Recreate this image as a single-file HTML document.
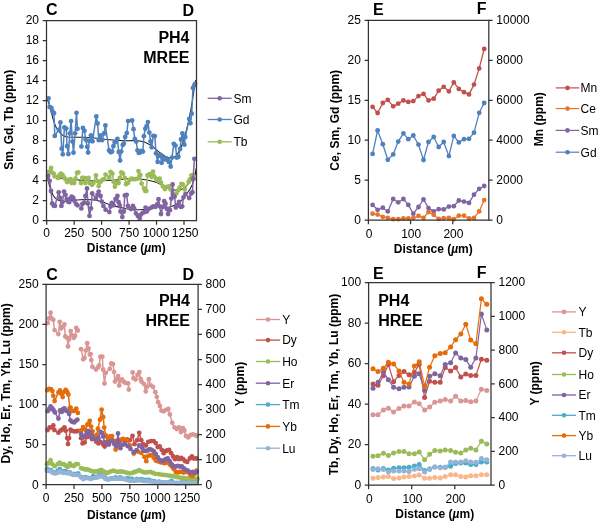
<!DOCTYPE html>
<html><head><meta charset="utf-8"><title>Figure</title>
<style>html,body{margin:0;padding:0;background:#fff;}svg{display:block;filter:blur(0.3px);}</style>
</head><body>
<svg width="600" height="523" viewBox="0 0 600 523" font-family='"Liberation Sans", sans-serif' fill="#000"><rect width="600" height="523" fill="#fff"/><path d="M47.5 100 L49.5 105 L51.3 111.7 L52.7 117.9 L54.6 123.7 L56.5 128 L58.9 131.3 L61.3 134.2 L64.1 136.1 L68 137 L74.7 137.2 L85 137.2 L95 138 L105 139.3 L115 140.3 L125 140.8 L135 140.6 L140 141 L145 142.3 L150 144.8 L155 148.6 L160 152.8 L165 156.3 L170 158.3 L173 158.2 L176 156 L180 150 L183 142 L186 132 L188.5 122 L190.5 112 L192.5 100 L194.3 88 L195.8 80" fill="none" stroke="#222" stroke-width="1.1" stroke-linejoin="round"/><path d="M47.5 170.5 L50 172 L53 174.5 L57.4 177.2 L63 178.6 L69.8 179.3 L76 179.8 L82.3 180.4 L90 180.8 L95 180.7 L100 180.6 L105 180.4 L113.6 180.3 L120 179.6 L125 179 L131 178.6 L137 178.8 L142 179.2 L147 180 L152.7 181.3 L158 183 L164.2 186.2 L170 188.8 L175.8 190.3 L180 190 L183.5 188.5 L186 186.2 L188.6 183.6 L191 181 L193.1 178.8 L195 174.5 L196 171" fill="none" stroke="#222" stroke-width="1.1" stroke-linejoin="round"/><path d="M47.5 177 L48.5 182 L50 187.5 L51.5 191.8 L53.3 195.5 L55 197.8 L57 199.6 L60.4 201 L65 201.2 L68.7 200.9 L75 200.3 L80.6 199.8 L86 199.6 L92.4 199.8 L97 200.5 L101.9 201.6 L106 203.2 L113.6 205.9 L120 207.4 L126 208.7 L132.3 209.6 L140 209.8 L145 209.3 L150 208 L157.8 206.3 L162 206.8 L166.8 207.3 L170 207 L174.5 205.3 L178 203.3 L182.2 199.6 L185 196 L187.3 193 L190 189 L192.4 184.5 L194 179 L195.5 172 L196.3 168" fill="none" stroke="#222" stroke-width="1.1" stroke-linejoin="round"/><path d="M48.6 98.3 L49.7 107.1 L51.4 107.8 L52.4 111.2 L54 113.2 L54.8 135.9 L58.8 129.9 L60.4 122.5 L61.7 148.7 L62.8 154.3 L64.4 127.5 L66.2 128.6 L67.1 146.2 L68.4 154 L69.8 133.3 L71.1 121.1 L72.5 141.6 L73.5 152.7 L75.1 133.3 L76.5 112.8 L77.5 128.8M81.4 146.6 L82.9 127.9 L84.5 130.8 L85.6 139.6 L87.2 146.9 L88.1 152.5 L89.2 140.9 L90.9 135.5 L92.5 141.3 L96.3 116.4 L97.6 123.5 L98.8 140.2 L100.2 135.5 L102 140.2 L104 133.5 L105.4 125.5 L109.1 150.5 L110.7 152.3 L112.1 151.6 L113.4 146.2 L114.7 142.6 L116.1 141.6 L117.4 138.9 L118.7 151.9 L120.1 160.5 L121.2 151.6 L122.8 144.9 L123.8 143.6 L125.2 136.9 L126.8 133.1 L128.1 121.1 L132.1 120.5 L133.5 129.2 L134.8 138.9 L136.2 141.6 L137.5 150.3 L138.8 152.9 L140.2 152.3 L141.5 150.9 L142.9 151.6 L143.9 136.2 L145.3 128.8 L146.6 126.2 L147.9 122.1 L149.3 132.6 L150.6 141.3 L151.7 147.3 L153.3 135.8 L154.8 136.1 L156 153.3 L157.7 161.9 L158.6 155.9 L160.3 155 L161.7 162.8 L162.9 157.6 L164.6 159.3 L166.4 158.5 L167.7 160.2 L168.9 161.9 L170.7 166.5 L172 157.6 L173.8 143.8 L175.5 145.6 L176.7 157.6 L178.4 156.8 L180.1 149 L181 139.5 L182.4 133.5 L183.6 137 L184.4 144.7 L185.3 137 L189.2 118.9 L190.4 123.2 L191.7 113.7 L193 87.9 L194.4 85.3 L195.1 84" fill="none" stroke="#4F81BD" stroke-width="1.5" stroke-linejoin="round"/><g fill="#4F81BD"><circle cx="48.6" cy="98.3" r="2.4"/><circle cx="49.7" cy="107.1" r="2.4"/><circle cx="51.4" cy="107.8" r="2.4"/><circle cx="52.4" cy="111.2" r="2.4"/><circle cx="54" cy="113.2" r="2.4"/><circle cx="54.8" cy="135.9" r="2.4"/><circle cx="58.8" cy="129.9" r="2.4"/><circle cx="60.4" cy="122.5" r="2.4"/><circle cx="61.7" cy="148.7" r="2.4"/><circle cx="62.8" cy="154.3" r="2.4"/><circle cx="64.4" cy="127.5" r="2.4"/><circle cx="66.2" cy="128.6" r="2.4"/><circle cx="67.1" cy="146.2" r="2.4"/><circle cx="68.4" cy="154" r="2.4"/><circle cx="69.8" cy="133.3" r="2.4"/><circle cx="71.1" cy="121.1" r="2.4"/><circle cx="72.5" cy="141.6" r="2.4"/><circle cx="73.5" cy="152.7" r="2.4"/><circle cx="75.1" cy="133.3" r="2.4"/><circle cx="76.5" cy="112.8" r="2.4"/><circle cx="77.5" cy="128.8" r="2.4"/><circle cx="81.4" cy="146.6" r="2.4"/><circle cx="82.9" cy="127.9" r="2.4"/><circle cx="84.5" cy="130.8" r="2.4"/><circle cx="85.6" cy="139.6" r="2.4"/><circle cx="87.2" cy="146.9" r="2.4"/><circle cx="88.1" cy="152.5" r="2.4"/><circle cx="89.2" cy="140.9" r="2.4"/><circle cx="90.9" cy="135.5" r="2.4"/><circle cx="92.5" cy="141.3" r="2.4"/><circle cx="96.3" cy="116.4" r="2.4"/><circle cx="97.6" cy="123.5" r="2.4"/><circle cx="98.8" cy="140.2" r="2.4"/><circle cx="100.2" cy="135.5" r="2.4"/><circle cx="102" cy="140.2" r="2.4"/><circle cx="104" cy="133.5" r="2.4"/><circle cx="105.4" cy="125.5" r="2.4"/><circle cx="109.1" cy="150.5" r="2.4"/><circle cx="110.7" cy="152.3" r="2.4"/><circle cx="112.1" cy="151.6" r="2.4"/><circle cx="113.4" cy="146.2" r="2.4"/><circle cx="114.7" cy="142.6" r="2.4"/><circle cx="116.1" cy="141.6" r="2.4"/><circle cx="117.4" cy="138.9" r="2.4"/><circle cx="118.7" cy="151.9" r="2.4"/><circle cx="120.1" cy="160.5" r="2.4"/><circle cx="121.2" cy="151.6" r="2.4"/><circle cx="122.8" cy="144.9" r="2.4"/><circle cx="123.8" cy="143.6" r="2.4"/><circle cx="125.2" cy="136.9" r="2.4"/><circle cx="126.8" cy="133.1" r="2.4"/><circle cx="128.1" cy="121.1" r="2.4"/><circle cx="132.1" cy="120.5" r="2.4"/><circle cx="133.5" cy="129.2" r="2.4"/><circle cx="134.8" cy="138.9" r="2.4"/><circle cx="136.2" cy="141.6" r="2.4"/><circle cx="137.5" cy="150.3" r="2.4"/><circle cx="138.8" cy="152.9" r="2.4"/><circle cx="140.2" cy="152.3" r="2.4"/><circle cx="141.5" cy="150.9" r="2.4"/><circle cx="142.9" cy="151.6" r="2.4"/><circle cx="143.9" cy="136.2" r="2.4"/><circle cx="145.3" cy="128.8" r="2.4"/><circle cx="146.6" cy="126.2" r="2.4"/><circle cx="147.9" cy="122.1" r="2.4"/><circle cx="149.3" cy="132.6" r="2.4"/><circle cx="150.6" cy="141.3" r="2.4"/><circle cx="151.7" cy="147.3" r="2.4"/><circle cx="153.3" cy="135.8" r="2.4"/><circle cx="154.8" cy="136.1" r="2.4"/><circle cx="156" cy="153.3" r="2.4"/><circle cx="157.7" cy="161.9" r="2.4"/><circle cx="158.6" cy="155.9" r="2.4"/><circle cx="160.3" cy="155" r="2.4"/><circle cx="161.7" cy="162.8" r="2.4"/><circle cx="162.9" cy="157.6" r="2.4"/><circle cx="164.6" cy="159.3" r="2.4"/><circle cx="166.4" cy="158.5" r="2.4"/><circle cx="167.7" cy="160.2" r="2.4"/><circle cx="168.9" cy="161.9" r="2.4"/><circle cx="170.7" cy="166.5" r="2.4"/><circle cx="172" cy="157.6" r="2.4"/><circle cx="173.8" cy="143.8" r="2.4"/><circle cx="175.5" cy="145.6" r="2.4"/><circle cx="176.7" cy="157.6" r="2.4"/><circle cx="178.4" cy="156.8" r="2.4"/><circle cx="180.1" cy="149" r="2.4"/><circle cx="181" cy="139.5" r="2.4"/><circle cx="182.4" cy="133.5" r="2.4"/><circle cx="183.6" cy="137" r="2.4"/><circle cx="184.4" cy="144.7" r="2.4"/><circle cx="185.3" cy="137" r="2.4"/><circle cx="189.2" cy="118.9" r="2.4"/><circle cx="190.4" cy="123.2" r="2.4"/><circle cx="191.7" cy="113.7" r="2.4"/><circle cx="193" cy="87.9" r="2.4"/><circle cx="194.4" cy="85.3" r="2.4"/><circle cx="195.1" cy="84" r="2.4"/></g><path d="M48.7 171.8 L51 168 L51.8 172.4 L53.7 173.6 L54.7 176.4 L58 178 L59.3 175.5 L60.9 173.6 L62.6 174.9 L63.9 177.4 L65.5 179.2 L67.1 182.1 L68.9 181.1 L70.5 179.2 L71.7 183 L73 181.1 L74.2 183 L75.4 178.6 L77 173 L78.3 172.4M81 183 L82.3 178 L84.1 178 L85.4 183 L87 178.6 L88.5 178 L89.7 183 L92 184.8 L93.4 183 L95.9 175.5 L97.5 181.1 L98.7 186.1 L100.6 181.7 L102.5 179.8 L104.3 179.2 L105.6 174.6 L109.3 177.4 L110.5 171.8 L112.4 173.6 L113.6 181.7 L114.9 186.7 L116.7 183 L118.6 183 L119.8 178 L121.3 172.4 L123 173.6 L124.8 178 L126.1 184.2 L127.9 183 L129.8 179.8 L131.6 178.6 L133.5 179.2 L135.4 179.2 L137.9 178.6 L138.5 171.1 L140.3 174.9 L141.6 183.6 L144.1 188.5 L145.3 191 L146.3 190.9 L147.6 175.5 L149.5 174.2 L151.4 176.8 L153 171.7 L154 176.2 L155.9 178.7 L157.8 180.6 L159.7 178.7 L161 182.6 L162.9 186.4 L164.9 189 L166.8 187.1 L168.7 186.4 L170.6 189.6 L172.6 193.5 L174.5 196 L176.4 193.5 L178.1 190.3 L179.6 187.7 L181.5 183.8 L182.8 184.5 L184.7 189.6 L188.6 181.9 L189.9 179.4 L191.4 175.5 L193.1 175.5 L194.4 178.7" fill="none" stroke="#9BBB59" stroke-width="1.5" stroke-linejoin="round"/><g fill="#9BBB59"><circle cx="48.7" cy="171.8" r="2.4"/><circle cx="51" cy="168" r="2.4"/><circle cx="51.8" cy="172.4" r="2.4"/><circle cx="53.7" cy="173.6" r="2.4"/><circle cx="54.7" cy="176.4" r="2.4"/><circle cx="58" cy="178" r="2.4"/><circle cx="59.3" cy="175.5" r="2.4"/><circle cx="60.9" cy="173.6" r="2.4"/><circle cx="62.6" cy="174.9" r="2.4"/><circle cx="63.9" cy="177.4" r="2.4"/><circle cx="65.5" cy="179.2" r="2.4"/><circle cx="67.1" cy="182.1" r="2.4"/><circle cx="68.9" cy="181.1" r="2.4"/><circle cx="70.5" cy="179.2" r="2.4"/><circle cx="71.7" cy="183" r="2.4"/><circle cx="73" cy="181.1" r="2.4"/><circle cx="74.2" cy="183" r="2.4"/><circle cx="75.4" cy="178.6" r="2.4"/><circle cx="77" cy="173" r="2.4"/><circle cx="78.3" cy="172.4" r="2.4"/><circle cx="81" cy="183" r="2.4"/><circle cx="82.3" cy="178" r="2.4"/><circle cx="84.1" cy="178" r="2.4"/><circle cx="85.4" cy="183" r="2.4"/><circle cx="87" cy="178.6" r="2.4"/><circle cx="88.5" cy="178" r="2.4"/><circle cx="89.7" cy="183" r="2.4"/><circle cx="92" cy="184.8" r="2.4"/><circle cx="93.4" cy="183" r="2.4"/><circle cx="95.9" cy="175.5" r="2.4"/><circle cx="97.5" cy="181.1" r="2.4"/><circle cx="98.7" cy="186.1" r="2.4"/><circle cx="100.6" cy="181.7" r="2.4"/><circle cx="102.5" cy="179.8" r="2.4"/><circle cx="104.3" cy="179.2" r="2.4"/><circle cx="105.6" cy="174.6" r="2.4"/><circle cx="109.3" cy="177.4" r="2.4"/><circle cx="110.5" cy="171.8" r="2.4"/><circle cx="112.4" cy="173.6" r="2.4"/><circle cx="113.6" cy="181.7" r="2.4"/><circle cx="114.9" cy="186.7" r="2.4"/><circle cx="116.7" cy="183" r="2.4"/><circle cx="118.6" cy="183" r="2.4"/><circle cx="119.8" cy="178" r="2.4"/><circle cx="121.3" cy="172.4" r="2.4"/><circle cx="123" cy="173.6" r="2.4"/><circle cx="124.8" cy="178" r="2.4"/><circle cx="126.1" cy="184.2" r="2.4"/><circle cx="127.9" cy="183" r="2.4"/><circle cx="129.8" cy="179.8" r="2.4"/><circle cx="131.6" cy="178.6" r="2.4"/><circle cx="133.5" cy="179.2" r="2.4"/><circle cx="135.4" cy="179.2" r="2.4"/><circle cx="137.9" cy="178.6" r="2.4"/><circle cx="138.5" cy="171.1" r="2.4"/><circle cx="140.3" cy="174.9" r="2.4"/><circle cx="141.6" cy="183.6" r="2.4"/><circle cx="144.1" cy="188.5" r="2.4"/><circle cx="145.3" cy="191" r="2.4"/><circle cx="146.3" cy="190.9" r="2.4"/><circle cx="147.6" cy="175.5" r="2.4"/><circle cx="149.5" cy="174.2" r="2.4"/><circle cx="151.4" cy="176.8" r="2.4"/><circle cx="153" cy="171.7" r="2.4"/><circle cx="154" cy="176.2" r="2.4"/><circle cx="155.9" cy="178.7" r="2.4"/><circle cx="157.8" cy="180.6" r="2.4"/><circle cx="159.7" cy="178.7" r="2.4"/><circle cx="161" cy="182.6" r="2.4"/><circle cx="162.9" cy="186.4" r="2.4"/><circle cx="164.9" cy="189" r="2.4"/><circle cx="166.8" cy="187.1" r="2.4"/><circle cx="168.7" cy="186.4" r="2.4"/><circle cx="170.6" cy="189.6" r="2.4"/><circle cx="172.6" cy="193.5" r="2.4"/><circle cx="174.5" cy="196" r="2.4"/><circle cx="176.4" cy="193.5" r="2.4"/><circle cx="178.1" cy="190.3" r="2.4"/><circle cx="179.6" cy="187.7" r="2.4"/><circle cx="181.5" cy="183.8" r="2.4"/><circle cx="182.8" cy="184.5" r="2.4"/><circle cx="184.7" cy="189.6" r="2.4"/><circle cx="188.6" cy="181.9" r="2.4"/><circle cx="189.9" cy="179.4" r="2.4"/><circle cx="191.4" cy="175.5" r="2.4"/><circle cx="193.1" cy="175.5" r="2.4"/><circle cx="194.4" cy="178.7" r="2.4"/></g><path d="M48.1 175.9 L49.7 180.8 L51 191 L52.2 203.4 L53.7 205.7 L54.9 205.9 L58.7 192.3 L60.2 197.9 L61.4 205.9 L62.4 202.2 L64 191.6 L65.5 194.8 L66.7 199.1 L68 201.6 L69.2 202.2 L70.5 198.5 L71.7 196.6 L73.3 197.9 L74.6 201 L76.1 204.1 L77.5 205.3M81.3 208.4 L82.3 204.1 L84.1 202.8 L85.4 196 L87 188.5 L87.9 203.4 L89.5 215.9 L91 208.4 L92.2 193.5 L95.9 198.5 L97.5 194.8 L98.7 191.6 L100.6 196 L101.8 201.6 L103.4 205.9 L105.6 209.7 L109.3 212.1 L110.5 206.6 L111.8 202.8 L113.6 205.3 L115.5 199.1 L117.4 196 L118.6 202.2 L119.8 205.3 L120.5 211.5 L122.3 217.1 L123.8 211.5 L124.8 195.4 L126.7 194.8 L127.9 205.9 L131 209 L132.9 205.9 L134.1 208.4 L136 213.4 L137.9 215.9 L139.7 218.4 L141 214.6 L142.8 212.8 L144.7 212.1 L145.6 207.6 L146.9 211.4 L148.8 208.8 L151.4 207.6 L153.3 206.3 L155.3 206.9 L157.2 204.4 L158.5 199.2 L159.7 206.3 L161 214 L162.9 206.9 L164.2 201.2 L165.5 203.7 L166.8 208.8 L168.1 214 L170 210.1 L171.3 198.6 L172.6 184.5 L173.5 196 L174.5 196.7 L175.8 207.6 L177.7 205.6 L179 201.8 L180.9 206.9 L182.2 206.3 L183.5 197.3 L185.4 194.1 L189.2 198 L191.2 193.5 L192.4 192.2 L193.1 178.7 L194.4 158.8" fill="none" stroke="#8064A2" stroke-width="1.5" stroke-linejoin="round"/><g fill="#8064A2"><circle cx="48.1" cy="175.9" r="2.4"/><circle cx="49.7" cy="180.8" r="2.4"/><circle cx="51" cy="191" r="2.4"/><circle cx="52.2" cy="203.4" r="2.4"/><circle cx="53.7" cy="205.7" r="2.4"/><circle cx="54.9" cy="205.9" r="2.4"/><circle cx="58.7" cy="192.3" r="2.4"/><circle cx="60.2" cy="197.9" r="2.4"/><circle cx="61.4" cy="205.9" r="2.4"/><circle cx="62.4" cy="202.2" r="2.4"/><circle cx="64" cy="191.6" r="2.4"/><circle cx="65.5" cy="194.8" r="2.4"/><circle cx="66.7" cy="199.1" r="2.4"/><circle cx="68" cy="201.6" r="2.4"/><circle cx="69.2" cy="202.2" r="2.4"/><circle cx="70.5" cy="198.5" r="2.4"/><circle cx="71.7" cy="196.6" r="2.4"/><circle cx="73.3" cy="197.9" r="2.4"/><circle cx="74.6" cy="201" r="2.4"/><circle cx="76.1" cy="204.1" r="2.4"/><circle cx="77.5" cy="205.3" r="2.4"/><circle cx="81.3" cy="208.4" r="2.4"/><circle cx="82.3" cy="204.1" r="2.4"/><circle cx="84.1" cy="202.8" r="2.4"/><circle cx="85.4" cy="196" r="2.4"/><circle cx="87" cy="188.5" r="2.4"/><circle cx="87.9" cy="203.4" r="2.4"/><circle cx="89.5" cy="215.9" r="2.4"/><circle cx="91" cy="208.4" r="2.4"/><circle cx="92.2" cy="193.5" r="2.4"/><circle cx="95.9" cy="198.5" r="2.4"/><circle cx="97.5" cy="194.8" r="2.4"/><circle cx="98.7" cy="191.6" r="2.4"/><circle cx="100.6" cy="196" r="2.4"/><circle cx="101.8" cy="201.6" r="2.4"/><circle cx="103.4" cy="205.9" r="2.4"/><circle cx="105.6" cy="209.7" r="2.4"/><circle cx="109.3" cy="212.1" r="2.4"/><circle cx="110.5" cy="206.6" r="2.4"/><circle cx="111.8" cy="202.8" r="2.4"/><circle cx="113.6" cy="205.3" r="2.4"/><circle cx="115.5" cy="199.1" r="2.4"/><circle cx="117.4" cy="196" r="2.4"/><circle cx="118.6" cy="202.2" r="2.4"/><circle cx="119.8" cy="205.3" r="2.4"/><circle cx="120.5" cy="211.5" r="2.4"/><circle cx="122.3" cy="217.1" r="2.4"/><circle cx="123.8" cy="211.5" r="2.4"/><circle cx="124.8" cy="195.4" r="2.4"/><circle cx="126.7" cy="194.8" r="2.4"/><circle cx="127.9" cy="205.9" r="2.4"/><circle cx="131" cy="209" r="2.4"/><circle cx="132.9" cy="205.9" r="2.4"/><circle cx="134.1" cy="208.4" r="2.4"/><circle cx="136" cy="213.4" r="2.4"/><circle cx="137.9" cy="215.9" r="2.4"/><circle cx="139.7" cy="218.4" r="2.4"/><circle cx="141" cy="214.6" r="2.4"/><circle cx="142.8" cy="212.8" r="2.4"/><circle cx="144.7" cy="212.1" r="2.4"/><circle cx="145.6" cy="207.6" r="2.4"/><circle cx="146.9" cy="211.4" r="2.4"/><circle cx="148.8" cy="208.8" r="2.4"/><circle cx="151.4" cy="207.6" r="2.4"/><circle cx="153.3" cy="206.3" r="2.4"/><circle cx="155.3" cy="206.9" r="2.4"/><circle cx="157.2" cy="204.4" r="2.4"/><circle cx="158.5" cy="199.2" r="2.4"/><circle cx="159.7" cy="206.3" r="2.4"/><circle cx="161" cy="214" r="2.4"/><circle cx="162.9" cy="206.9" r="2.4"/><circle cx="164.2" cy="201.2" r="2.4"/><circle cx="165.5" cy="203.7" r="2.4"/><circle cx="166.8" cy="208.8" r="2.4"/><circle cx="168.1" cy="214" r="2.4"/><circle cx="170" cy="210.1" r="2.4"/><circle cx="171.3" cy="198.6" r="2.4"/><circle cx="172.6" cy="184.5" r="2.4"/><circle cx="173.5" cy="196" r="2.4"/><circle cx="174.5" cy="196.7" r="2.4"/><circle cx="175.8" cy="207.6" r="2.4"/><circle cx="177.7" cy="205.6" r="2.4"/><circle cx="179" cy="201.8" r="2.4"/><circle cx="180.9" cy="206.9" r="2.4"/><circle cx="182.2" cy="206.3" r="2.4"/><circle cx="183.5" cy="197.3" r="2.4"/><circle cx="185.4" cy="194.1" r="2.4"/><circle cx="189.2" cy="198" r="2.4"/><circle cx="191.2" cy="193.5" r="2.4"/><circle cx="192.4" cy="192.2" r="2.4"/><circle cx="193.1" cy="178.7" r="2.4"/><circle cx="194.4" cy="158.8" r="2.4"/></g><path d="M46.5 20.5 H196.5 V220.5 H46.5 Z" fill="none" stroke="#333333" stroke-width="1.25"/><path d="M42.7 220.5 H46.5 M42.7 200.5 H46.5 M42.7 180.5 H46.5 M42.7 160.5 H46.5 M42.7 140.5 H46.5 M42.7 120.5 H46.5 M42.7 100.5 H46.5 M42.7 80.5 H46.5 M42.7 60.5 H46.5 M42.7 40.5 H46.5 M42.7 20.5 H46.5 " stroke="#333333" stroke-width="1.25"/><text x="39" y="224.3" font-size="12" text-anchor="end">0</text><text x="39" y="204.3" font-size="12" text-anchor="end">2</text><text x="39" y="184.3" font-size="12" text-anchor="end">4</text><text x="39" y="164.3" font-size="12" text-anchor="end">6</text><text x="39" y="144.3" font-size="12" text-anchor="end">8</text><text x="39" y="124.3" font-size="12" text-anchor="end">10</text><text x="39" y="104.3" font-size="12" text-anchor="end">12</text><text x="39" y="84.3" font-size="12" text-anchor="end">14</text><text x="39" y="64.3" font-size="12" text-anchor="end">16</text><text x="39" y="44.3" font-size="12" text-anchor="end">18</text><text x="39" y="24.3" font-size="12" text-anchor="end">20</text><path d="M46.7 220.5 V224.7 M74.16 220.5 V224.7 M101.62 220.5 V224.7 M129.08 220.5 V224.7 M156.54 220.5 V224.7 M184 220.5 V224.7 " stroke="#333333" stroke-width="1.25"/><text x="46.7" y="236.8" font-size="12" text-anchor="middle">0</text><text x="74.16" y="236.8" font-size="12" text-anchor="middle">250</text><text x="101.62" y="236.8" font-size="12" text-anchor="middle">500</text><text x="129.08" y="236.8" font-size="12" text-anchor="middle">750</text><text x="156.04" y="236.8" font-size="12" text-anchor="middle">1000</text><text x="185.2" y="236.8" font-size="12" text-anchor="middle">1250</text><text x="46" y="15.3" font-size="16" text-anchor="start" font-weight="bold">C</text><text x="194" y="15.5" font-size="16" text-anchor="end" font-weight="bold">D</text><text x="189.5" y="42.5" font-size="16" text-anchor="end" font-weight="bold">PH4</text><text x="189.5" y="62.7" font-size="16" text-anchor="end" font-weight="bold">MREE</text><text transform="translate(9.2 119.7) rotate(-90)" x="0" y="0" font-size="12" text-anchor="middle" dominant-baseline="central" font-weight="bold">Sm, Gd, Tb (ppm)</text><text x="126.3" y="252.3" font-size="12" text-anchor="middle" font-weight="bold">Distance (<tspan font-style="italic">µ</tspan>m)</text><path d="M207.7 98.3 H231.7" stroke="#8064A2" stroke-width="1.3"/><circle cx="219.7" cy="98.3" r="2.3" fill="#8064A2"/><text x="233.4" y="102.6" font-size="12" text-anchor="start">Sm</text><path d="M207.7 119.5 H231.7" stroke="#4F81BD" stroke-width="1.3"/><circle cx="219.7" cy="119.5" r="2.3" fill="#4F81BD"/><text x="233.4" y="123.8" font-size="12" text-anchor="start">Gd</text><path d="M207.7 141.8 H231.7" stroke="#9BBB59" stroke-width="1.3"/><circle cx="219.7" cy="141.8" r="2.3" fill="#9BBB59"/><text x="233.4" y="146.1" font-size="12" text-anchor="start">Tb</text><path d="M372.6 106.9 L377.6 113 L382.8 103 L387.8 99.8 L393.2 106.3 L398.2 103.7 L403.4 100.4 L408.3 101.9 L413.3 101.1 L418.5 96.1 L423.5 93.9 L428.5 100.4 L433.7 98.7 L438.7 90.7 L443.7 86.8 L448.9 91.3 L453.8 82.4 L458.8 88.9 L464 92.2 L469 94.4 L474 84.6 L479.2 68.4 L484.2 48.9" fill="none" stroke="#C0504D" stroke-width="1.3" stroke-linejoin="round"/><g fill="#C0504D"><circle cx="372.6" cy="106.9" r="2.4"/><circle cx="377.6" cy="113" r="2.4"/><circle cx="382.8" cy="103" r="2.4"/><circle cx="387.8" cy="99.8" r="2.4"/><circle cx="393.2" cy="106.3" r="2.4"/><circle cx="398.2" cy="103.7" r="2.4"/><circle cx="403.4" cy="100.4" r="2.4"/><circle cx="408.3" cy="101.9" r="2.4"/><circle cx="413.3" cy="101.1" r="2.4"/><circle cx="418.5" cy="96.1" r="2.4"/><circle cx="423.5" cy="93.9" r="2.4"/><circle cx="428.5" cy="100.4" r="2.4"/><circle cx="433.7" cy="98.7" r="2.4"/><circle cx="438.7" cy="90.7" r="2.4"/><circle cx="443.7" cy="86.8" r="2.4"/><circle cx="448.9" cy="91.3" r="2.4"/><circle cx="453.8" cy="82.4" r="2.4"/><circle cx="458.8" cy="88.9" r="2.4"/><circle cx="464" cy="92.2" r="2.4"/><circle cx="469" cy="94.4" r="2.4"/><circle cx="474" cy="84.6" r="2.4"/><circle cx="479.2" cy="68.4" r="2.4"/><circle cx="484.2" cy="48.9" r="2.4"/></g><path d="M372.6 153.9 L377.6 130.5 L382.8 144.2 L387.8 159.8 L393.2 154.4 L398.2 141.6 L403.4 133.3 L408.3 139.2 L413.3 135.5 L418.5 144.6 L423.5 160 L428.5 142 L433.7 137 L438.7 147 L443.7 142 L448.9 156.1 L453.8 135.9 L458.8 142.4 L464 139.2 L469 138.8 L474 132.7 L479.2 112.8 L484.2 103" fill="none" stroke="#4F81BD" stroke-width="1.3" stroke-linejoin="round"/><g fill="#4F81BD"><circle cx="372.6" cy="153.9" r="2.4"/><circle cx="377.6" cy="130.5" r="2.4"/><circle cx="382.8" cy="144.2" r="2.4"/><circle cx="387.8" cy="159.8" r="2.4"/><circle cx="393.2" cy="154.4" r="2.4"/><circle cx="398.2" cy="141.6" r="2.4"/><circle cx="403.4" cy="133.3" r="2.4"/><circle cx="408.3" cy="139.2" r="2.4"/><circle cx="413.3" cy="135.5" r="2.4"/><circle cx="418.5" cy="144.6" r="2.4"/><circle cx="423.5" cy="160" r="2.4"/><circle cx="428.5" cy="142" r="2.4"/><circle cx="433.7" cy="137" r="2.4"/><circle cx="438.7" cy="147" r="2.4"/><circle cx="443.7" cy="142" r="2.4"/><circle cx="448.9" cy="156.1" r="2.4"/><circle cx="453.8" cy="135.9" r="2.4"/><circle cx="458.8" cy="142.4" r="2.4"/><circle cx="464" cy="139.2" r="2.4"/><circle cx="469" cy="138.8" r="2.4"/><circle cx="474" cy="132.7" r="2.4"/><circle cx="479.2" cy="112.8" r="2.4"/><circle cx="484.2" cy="103" r="2.4"/></g><path d="M372.6 204.9 L377.6 209.8 L382.8 207.7 L387.8 211.4 L393.2 199 L398.2 202.3 L403.4 199 L408.3 204.9 L413.3 213.7 L418.5 207 L423.5 199.4 L428.5 208.1 L433.7 211.4 L438.7 209.2 L443.7 209.4 L448.9 206.6 L453.8 206.2 L458.8 200.5 L464 201.6 L469 202.9 L474 194.7 L479.2 188.8 L484.2 186" fill="none" stroke="#8064A2" stroke-width="1.3" stroke-linejoin="round"/><g fill="#8064A2"><circle cx="372.6" cy="204.9" r="2.4"/><circle cx="377.6" cy="209.8" r="2.4"/><circle cx="382.8" cy="207.7" r="2.4"/><circle cx="387.8" cy="211.4" r="2.4"/><circle cx="393.2" cy="199" r="2.4"/><circle cx="398.2" cy="202.3" r="2.4"/><circle cx="403.4" cy="199" r="2.4"/><circle cx="408.3" cy="204.9" r="2.4"/><circle cx="413.3" cy="213.7" r="2.4"/><circle cx="418.5" cy="207" r="2.4"/><circle cx="423.5" cy="199.4" r="2.4"/><circle cx="428.5" cy="208.1" r="2.4"/><circle cx="433.7" cy="211.4" r="2.4"/><circle cx="438.7" cy="209.2" r="2.4"/><circle cx="443.7" cy="209.4" r="2.4"/><circle cx="448.9" cy="206.6" r="2.4"/><circle cx="453.8" cy="206.2" r="2.4"/><circle cx="458.8" cy="200.5" r="2.4"/><circle cx="464" cy="201.6" r="2.4"/><circle cx="469" cy="202.9" r="2.4"/><circle cx="474" cy="194.7" r="2.4"/><circle cx="479.2" cy="188.8" r="2.4"/><circle cx="484.2" cy="186" r="2.4"/></g><path d="M372.6 213.7 L377.6 214.6 L382.8 216.8 L387.8 217.9 L393.2 219.2 L398.2 219.2 L403.4 218.5 L408.3 218.5 L413.3 218.1 L418.5 215.9 L423.5 217.9 L428.5 212 L433.7 214.8 L438.7 218.9 L443.7 218.1 L448.9 217.9 L453.8 219.2 L458.8 215.7 L464 215.7 L469 218.5 L474 217.9 L479.2 211.4 L484.2 200.1" fill="none" stroke="#E8732A" stroke-width="1.3" stroke-linejoin="round"/><g fill="#E8732A"><circle cx="372.6" cy="213.7" r="2.4"/><circle cx="377.6" cy="214.6" r="2.4"/><circle cx="382.8" cy="216.8" r="2.4"/><circle cx="387.8" cy="217.9" r="2.4"/><circle cx="393.2" cy="219.2" r="2.4"/><circle cx="398.2" cy="219.2" r="2.4"/><circle cx="403.4" cy="218.5" r="2.4"/><circle cx="408.3" cy="218.5" r="2.4"/><circle cx="413.3" cy="218.1" r="2.4"/><circle cx="418.5" cy="215.9" r="2.4"/><circle cx="423.5" cy="217.9" r="2.4"/><circle cx="428.5" cy="212" r="2.4"/><circle cx="433.7" cy="214.8" r="2.4"/><circle cx="438.7" cy="218.9" r="2.4"/><circle cx="443.7" cy="218.1" r="2.4"/><circle cx="448.9" cy="217.9" r="2.4"/><circle cx="453.8" cy="219.2" r="2.4"/><circle cx="458.8" cy="215.7" r="2.4"/><circle cx="464" cy="215.7" r="2.4"/><circle cx="469" cy="218.5" r="2.4"/><circle cx="474" cy="217.9" r="2.4"/><circle cx="479.2" cy="211.4" r="2.4"/><circle cx="484.2" cy="200.1" r="2.4"/></g><path d="M368.4 20.4 H488.8 V220.1 H368.4 Z" fill="none" stroke="#333333" stroke-width="1.25"/><path d="M364.6 220.1 H368.4 M364.6 180.16 H368.4 M364.6 140.22 H368.4 M364.6 100.28 H368.4 M364.6 60.34 H368.4 M364.6 20.4 H368.4 " stroke="#333333" stroke-width="1.25"/><text x="360.9" y="223.9" font-size="12" text-anchor="end">0</text><text x="360.9" y="183.96" font-size="12" text-anchor="end">5</text><text x="360.9" y="144.02" font-size="12" text-anchor="end">10</text><text x="360.9" y="104.08" font-size="12" text-anchor="end">15</text><text x="360.9" y="64.14" font-size="12" text-anchor="end">20</text><text x="360.9" y="24.2" font-size="12" text-anchor="end">25</text><path d="M488.8 220.1 H492.6 M488.8 180.16 H492.6 M488.8 140.22 H492.6 M488.8 100.28 H492.6 M488.8 60.34 H492.6 M488.8 20.4 H492.6 " stroke="#333333" stroke-width="1.25"/><text x="496.3" y="223.9" font-size="12" text-anchor="start">0</text><text x="496.3" y="183.96" font-size="12" text-anchor="start">2000</text><text x="496.3" y="144.02" font-size="12" text-anchor="start">4000</text><text x="496.3" y="104.08" font-size="12" text-anchor="start">6000</text><text x="496.3" y="64.14" font-size="12" text-anchor="start">8000</text><text x="496.3" y="24.2" font-size="12" text-anchor="start">10000</text><path d="M368.4 220.1 V224.3 M410.6 220.1 V224.3 M452.8 220.1 V224.3 " stroke="#333333" stroke-width="1.25"/><text x="369" y="237.7" font-size="12" text-anchor="middle">0</text><text x="411.2" y="237.7" font-size="12" text-anchor="middle">100</text><text x="453.4" y="237.7" font-size="12" text-anchor="middle">200</text><text x="373.1" y="14.5" font-size="16" text-anchor="start" font-weight="bold">E</text><text x="486.5" y="14.2" font-size="16" text-anchor="end" font-weight="bold">F</text><text transform="translate(335.1 120.3) rotate(-90)" x="0" y="0" font-size="12" text-anchor="middle" dominant-baseline="central" font-weight="bold">Ce, Sm, Gd (ppm)</text><text transform="translate(538.5 119.2) rotate(-90)" x="0" y="0" font-size="12" text-anchor="middle" dominant-baseline="central" font-weight="bold">Mn (ppm)</text><text x="433.3" y="253" font-size="12" text-anchor="middle" font-weight="bold">Distance (<tspan font-style="italic">µ</tspan>m)</text><path d="M555.7 87.9 H579.3" stroke="#C0504D" stroke-width="1.2"/><circle cx="567.5" cy="87.9" r="2.3" fill="#C0504D"/><text x="580.6" y="92.2" font-size="12" text-anchor="start">Mn</text><path d="M555.7 108.6 H579.3" stroke="#E8732A" stroke-width="1.2"/><circle cx="567.5" cy="108.6" r="2.3" fill="#E8732A"/><text x="580.6" y="112.9" font-size="12" text-anchor="start">Ce</text><path d="M555.7 130.4 H579.3" stroke="#8064A2" stroke-width="1.2"/><circle cx="567.5" cy="130.4" r="2.3" fill="#8064A2"/><text x="580.6" y="134.7" font-size="12" text-anchor="start">Sm</text><path d="M555.7 152.2 H579.3" stroke="#4F81BD" stroke-width="1.2"/><circle cx="567.5" cy="152.2" r="2.3" fill="#4F81BD"/><text x="580.6" y="156.5" font-size="12" text-anchor="start">Gd</text><path d="M47.7 323.1 L49 318.4 L50.6 312.7 L51.7 318.4 L53.3 319.8 L54.6 330.1 L58.4 334.1 L59.7 321.8 L61.1 328.5 L62.4 327.1 L64.4 324.5 L65.3 336.5 L67.1 337.8 L68 346.5 L69.1 339.2 L70.7 331.1 L71.8 335.2 L73.8 337.8 L75.1 335.8 L76.2 327.8 L77.8 330.5M81.1 349.2 L83.2 359.3 L84.5 357.9 L85.8 350.6 L87.2 343.2 L88.5 348.5 L89.8 354.6 L90.7 354.1 L91.3 360.1 L92.4 366.8 L96 369.5 L98 367.4 L99.1 365.4 L100.4 356.7 L102.3 356.7 L103.1 369.5 L104.5 383.5 L105.8 372.8 L109.8 368.8 L111.2 363.4 L113 364.1 L114.1 372.1 L115 381.5 L116.8 378.8 L118.1 376.1 L119.2 385.5 L120.8 380.2 L122.1 379.5 L124.1 382.2 L125.5 382.8 L128.2 383.5 L128.8 389.5M132.6 372.4 L133.5 378.2 L135.5 379.5 L137.5 374.8 L139.3 372.1 L140.6 378.8 L141.5 381.5 L143.8 383.8 L145.8 391.4 L146.9 386.8 L148.9 379.2 L150.7 385.3 L153 386.8 L155.3 392.2 L156.8 396.8 L158.1 402.2 L159.9 406 L161.4 410.6 L163.7 411.3 L166 409.8 L168.3 409 L169.9 414.4 L172.2 422.8 L174.5 427.4 L176.8 429 L179 427.4 L181 432 L182.9 428.2 L184.4 430.5 L185.9 435.9 L188.2 437.4 L190.5 435.1 L192.8 434.3 L195.4 435.1 L196.7 435.9" fill="none" stroke="#D99694" stroke-width="1.5" stroke-linejoin="round"/><g fill="#D99694"><circle cx="47.7" cy="323.1" r="2.4"/><circle cx="49" cy="318.4" r="2.4"/><circle cx="50.6" cy="312.7" r="2.4"/><circle cx="51.7" cy="318.4" r="2.4"/><circle cx="53.3" cy="319.8" r="2.4"/><circle cx="54.6" cy="330.1" r="2.4"/><circle cx="58.4" cy="334.1" r="2.4"/><circle cx="59.7" cy="321.8" r="2.4"/><circle cx="61.1" cy="328.5" r="2.4"/><circle cx="62.4" cy="327.1" r="2.4"/><circle cx="64.4" cy="324.5" r="2.4"/><circle cx="65.3" cy="336.5" r="2.4"/><circle cx="67.1" cy="337.8" r="2.4"/><circle cx="68" cy="346.5" r="2.4"/><circle cx="69.1" cy="339.2" r="2.4"/><circle cx="70.7" cy="331.1" r="2.4"/><circle cx="71.8" cy="335.2" r="2.4"/><circle cx="73.8" cy="337.8" r="2.4"/><circle cx="75.1" cy="335.8" r="2.4"/><circle cx="76.2" cy="327.8" r="2.4"/><circle cx="77.8" cy="330.5" r="2.4"/><circle cx="81.1" cy="349.2" r="2.4"/><circle cx="83.2" cy="359.3" r="2.4"/><circle cx="84.5" cy="357.9" r="2.4"/><circle cx="85.8" cy="350.6" r="2.4"/><circle cx="87.2" cy="343.2" r="2.4"/><circle cx="88.5" cy="348.5" r="2.4"/><circle cx="89.8" cy="354.6" r="2.4"/><circle cx="90.7" cy="354.1" r="2.4"/><circle cx="91.3" cy="360.1" r="2.4"/><circle cx="92.4" cy="366.8" r="2.4"/><circle cx="96" cy="369.5" r="2.4"/><circle cx="98" cy="367.4" r="2.4"/><circle cx="99.1" cy="365.4" r="2.4"/><circle cx="100.4" cy="356.7" r="2.4"/><circle cx="102.3" cy="356.7" r="2.4"/><circle cx="103.1" cy="369.5" r="2.4"/><circle cx="104.5" cy="383.5" r="2.4"/><circle cx="105.8" cy="372.8" r="2.4"/><circle cx="109.8" cy="368.8" r="2.4"/><circle cx="111.2" cy="363.4" r="2.4"/><circle cx="113" cy="364.1" r="2.4"/><circle cx="114.1" cy="372.1" r="2.4"/><circle cx="115" cy="381.5" r="2.4"/><circle cx="116.8" cy="378.8" r="2.4"/><circle cx="118.1" cy="376.1" r="2.4"/><circle cx="119.2" cy="385.5" r="2.4"/><circle cx="120.8" cy="380.2" r="2.4"/><circle cx="122.1" cy="379.5" r="2.4"/><circle cx="124.1" cy="382.2" r="2.4"/><circle cx="125.5" cy="382.8" r="2.4"/><circle cx="128.2" cy="383.5" r="2.4"/><circle cx="128.8" cy="389.5" r="2.4"/><circle cx="132.6" cy="372.4" r="2.4"/><circle cx="133.5" cy="378.2" r="2.4"/><circle cx="135.5" cy="379.5" r="2.4"/><circle cx="137.5" cy="374.8" r="2.4"/><circle cx="139.3" cy="372.1" r="2.4"/><circle cx="140.6" cy="378.8" r="2.4"/><circle cx="141.5" cy="381.5" r="2.4"/><circle cx="143.8" cy="383.8" r="2.4"/><circle cx="145.8" cy="391.4" r="2.4"/><circle cx="146.9" cy="386.8" r="2.4"/><circle cx="148.9" cy="379.2" r="2.4"/><circle cx="150.7" cy="385.3" r="2.4"/><circle cx="153" cy="386.8" r="2.4"/><circle cx="155.3" cy="392.2" r="2.4"/><circle cx="156.8" cy="396.8" r="2.4"/><circle cx="158.1" cy="402.2" r="2.4"/><circle cx="159.9" cy="406" r="2.4"/><circle cx="161.4" cy="410.6" r="2.4"/><circle cx="163.7" cy="411.3" r="2.4"/><circle cx="166" cy="409.8" r="2.4"/><circle cx="168.3" cy="409" r="2.4"/><circle cx="169.9" cy="414.4" r="2.4"/><circle cx="172.2" cy="422.8" r="2.4"/><circle cx="174.5" cy="427.4" r="2.4"/><circle cx="176.8" cy="429" r="2.4"/><circle cx="179" cy="427.4" r="2.4"/><circle cx="181" cy="432" r="2.4"/><circle cx="182.9" cy="428.2" r="2.4"/><circle cx="184.4" cy="430.5" r="2.4"/><circle cx="185.9" cy="435.9" r="2.4"/><circle cx="188.2" cy="437.4" r="2.4"/><circle cx="190.5" cy="435.1" r="2.4"/><circle cx="192.8" cy="434.3" r="2.4"/><circle cx="195.4" cy="435.1" r="2.4"/><circle cx="196.7" cy="435.9" r="2.4"/></g><path d="M47 469.22 L49 470.01 L51 470.16 L53 472.17 L55 472.83 L57.7 470.77 L59.7 469.23 L61.7 472.08 L63.7 471.27 L65.7 471.21 L67.8 473.19 L69.8 472.42 L71.8 474.07 L73.8 473.84 L76.5 474.26 L78.2 473.29M81.1 476.95 L83.2 478.86 L85.2 477.26 L87.8 477.83 L90.5 478.35 L93.2 476.07 L95.9 477.27 L97.8 476.54 L99.6 474.88 L101.4 473.08 L103.3 476.75 L105.1 477.53 L106.9 478.97 L109 479.18 L111.2 478.36 L113.3 478.59 L115.6 477.33 L118 478.58 L120.2 477.46 L122.5 478.63 L124.9 479.19 L127.4 478.05 L129.9 478.85 L132.2 478.86 L134.5 480.71 L136.8 479.23 L139 479.63 L141.5 479.08 L144 480.02 L146.5 479.9 L149 479.91 L151.5 480.82 L154 481.12 L156.5 482.15 L159 481.77 L161.5 482.52 L164 482.43 L166.5 482.88 L169 482.15 L171.5 480.92 L174 482.84 L176.5 483.21 L179 483.05 L181.5 482.28 L184 482.66 L186.5 481.45 L189 483.06 L191.5 482.39 L194 481.64 L196.5 481.06" fill="none" stroke="#4BACC6" stroke-width="1.5" stroke-linejoin="round"/><g fill="#4BACC6"><circle cx="47" cy="469.22" r="2.4"/><circle cx="49" cy="470.01" r="2.4"/><circle cx="51" cy="470.16" r="2.4"/><circle cx="53" cy="472.17" r="2.4"/><circle cx="55" cy="472.83" r="2.4"/><circle cx="57.7" cy="470.77" r="2.4"/><circle cx="59.7" cy="469.23" r="2.4"/><circle cx="61.7" cy="472.08" r="2.4"/><circle cx="63.7" cy="471.27" r="2.4"/><circle cx="65.7" cy="471.21" r="2.4"/><circle cx="67.8" cy="473.19" r="2.4"/><circle cx="69.8" cy="472.42" r="2.4"/><circle cx="71.8" cy="474.07" r="2.4"/><circle cx="73.8" cy="473.84" r="2.4"/><circle cx="76.5" cy="474.26" r="2.4"/><circle cx="78.2" cy="473.29" r="2.4"/><circle cx="81.1" cy="476.95" r="2.4"/><circle cx="83.2" cy="478.86" r="2.4"/><circle cx="85.2" cy="477.26" r="2.4"/><circle cx="87.8" cy="477.83" r="2.4"/><circle cx="90.5" cy="478.35" r="2.4"/><circle cx="93.2" cy="476.07" r="2.4"/><circle cx="95.9" cy="477.27" r="2.4"/><circle cx="97.8" cy="476.54" r="2.4"/><circle cx="99.6" cy="474.88" r="2.4"/><circle cx="101.4" cy="473.08" r="2.4"/><circle cx="103.3" cy="476.75" r="2.4"/><circle cx="105.1" cy="477.53" r="2.4"/><circle cx="106.9" cy="478.97" r="2.4"/><circle cx="109" cy="479.18" r="2.4"/><circle cx="111.2" cy="478.36" r="2.4"/><circle cx="113.3" cy="478.59" r="2.4"/><circle cx="115.6" cy="477.33" r="2.4"/><circle cx="118" cy="478.58" r="2.4"/><circle cx="120.2" cy="477.46" r="2.4"/><circle cx="122.5" cy="478.63" r="2.4"/><circle cx="124.9" cy="479.19" r="2.4"/><circle cx="127.4" cy="478.05" r="2.4"/><circle cx="129.9" cy="478.85" r="2.4"/><circle cx="132.2" cy="478.86" r="2.4"/><circle cx="134.5" cy="480.71" r="2.4"/><circle cx="136.8" cy="479.23" r="2.4"/><circle cx="139" cy="479.63" r="2.4"/><circle cx="141.5" cy="479.08" r="2.4"/><circle cx="144" cy="480.02" r="2.4"/><circle cx="146.5" cy="479.9" r="2.4"/><circle cx="149" cy="479.91" r="2.4"/><circle cx="151.5" cy="480.82" r="2.4"/><circle cx="154" cy="481.12" r="2.4"/><circle cx="156.5" cy="482.15" r="2.4"/><circle cx="159" cy="481.77" r="2.4"/><circle cx="161.5" cy="482.52" r="2.4"/><circle cx="164" cy="482.43" r="2.4"/><circle cx="166.5" cy="482.88" r="2.4"/><circle cx="169" cy="482.15" r="2.4"/><circle cx="171.5" cy="480.92" r="2.4"/><circle cx="174" cy="482.84" r="2.4"/><circle cx="176.5" cy="483.21" r="2.4"/><circle cx="179" cy="483.05" r="2.4"/><circle cx="181.5" cy="482.28" r="2.4"/><circle cx="184" cy="482.66" r="2.4"/><circle cx="186.5" cy="481.45" r="2.4"/><circle cx="189" cy="483.06" r="2.4"/><circle cx="191.5" cy="482.39" r="2.4"/><circle cx="194" cy="481.64" r="2.4"/><circle cx="196.5" cy="481.06" r="2.4"/></g><path d="M47 470.9 L49 470.9 L51 471.5 L53 472.9 L55 473.5 L57.7 472.9 L59.7 471.5 L61.7 472.2 L63.7 472.9 L65.7 472.9 L67.8 472.9 L69.8 473.5 L71.8 474.2 L73.8 474.9 L76.5 474.9 L78.2 475.2M81.1 477.6 L83.2 478.9 L85.2 478.2 L87.8 478.2 L90.5 478.9 L93.2 478.2 L95.9 477.6 L97.8 477.3 L99.6 476.4 L101.4 475.3 L103.3 476.8 L105.1 478.6 L106.9 479.4 L109 479.2 L111.2 478.8 L113.3 478.5 L115.6 478.6 L118 478.8 L120.2 478.6 L122.5 478.5 L124.9 479.2 L127.4 480.1 L129.9 480.8 L132.2 480.6 L134.5 480.5 L136.8 480.4 L139 480.3 L141.5 480.6 L144 481 L146.5 481.2 L149 481.3 L151.5 481.6 L154 481.9 L156.5 482.1 L159 482.3 L161.5 482.4 L164 482.5 L166.5 482.6 L169 482.7 L171.5 482.8 L174 482.9 L176.5 483 L179 483 L181.5 483.1 L184 483.1 L186.5 483.2 L189 483.2 L191.5 483.2 L194 483.2 L196.5 483.2" fill="none" stroke="#95B3D7" stroke-width="1.5" stroke-linejoin="round"/><g fill="#95B3D7"><circle cx="47" cy="470.9" r="2.4"/><circle cx="49" cy="470.9" r="2.4"/><circle cx="51" cy="471.5" r="2.4"/><circle cx="53" cy="472.9" r="2.4"/><circle cx="55" cy="473.5" r="2.4"/><circle cx="57.7" cy="472.9" r="2.4"/><circle cx="59.7" cy="471.5" r="2.4"/><circle cx="61.7" cy="472.2" r="2.4"/><circle cx="63.7" cy="472.9" r="2.4"/><circle cx="65.7" cy="472.9" r="2.4"/><circle cx="67.8" cy="472.9" r="2.4"/><circle cx="69.8" cy="473.5" r="2.4"/><circle cx="71.8" cy="474.2" r="2.4"/><circle cx="73.8" cy="474.9" r="2.4"/><circle cx="76.5" cy="474.9" r="2.4"/><circle cx="78.2" cy="475.2" r="2.4"/><circle cx="81.1" cy="477.6" r="2.4"/><circle cx="83.2" cy="478.9" r="2.4"/><circle cx="85.2" cy="478.2" r="2.4"/><circle cx="87.8" cy="478.2" r="2.4"/><circle cx="90.5" cy="478.9" r="2.4"/><circle cx="93.2" cy="478.2" r="2.4"/><circle cx="95.9" cy="477.6" r="2.4"/><circle cx="97.8" cy="477.3" r="2.4"/><circle cx="99.6" cy="476.4" r="2.4"/><circle cx="101.4" cy="475.3" r="2.4"/><circle cx="103.3" cy="476.8" r="2.4"/><circle cx="105.1" cy="478.6" r="2.4"/><circle cx="106.9" cy="479.4" r="2.4"/><circle cx="109" cy="479.2" r="2.4"/><circle cx="111.2" cy="478.8" r="2.4"/><circle cx="113.3" cy="478.5" r="2.4"/><circle cx="115.6" cy="478.6" r="2.4"/><circle cx="118" cy="478.8" r="2.4"/><circle cx="120.2" cy="478.6" r="2.4"/><circle cx="122.5" cy="478.5" r="2.4"/><circle cx="124.9" cy="479.2" r="2.4"/><circle cx="127.4" cy="480.1" r="2.4"/><circle cx="129.9" cy="480.8" r="2.4"/><circle cx="132.2" cy="480.6" r="2.4"/><circle cx="134.5" cy="480.5" r="2.4"/><circle cx="136.8" cy="480.4" r="2.4"/><circle cx="139" cy="480.3" r="2.4"/><circle cx="141.5" cy="480.6" r="2.4"/><circle cx="144" cy="481" r="2.4"/><circle cx="146.5" cy="481.2" r="2.4"/><circle cx="149" cy="481.3" r="2.4"/><circle cx="151.5" cy="481.6" r="2.4"/><circle cx="154" cy="481.9" r="2.4"/><circle cx="156.5" cy="482.1" r="2.4"/><circle cx="159" cy="482.3" r="2.4"/><circle cx="161.5" cy="482.4" r="2.4"/><circle cx="164" cy="482.5" r="2.4"/><circle cx="166.5" cy="482.6" r="2.4"/><circle cx="169" cy="482.7" r="2.4"/><circle cx="171.5" cy="482.8" r="2.4"/><circle cx="174" cy="482.9" r="2.4"/><circle cx="176.5" cy="483" r="2.4"/><circle cx="179" cy="483" r="2.4"/><circle cx="181.5" cy="483.1" r="2.4"/><circle cx="184" cy="483.1" r="2.4"/><circle cx="186.5" cy="483.2" r="2.4"/><circle cx="189" cy="483.2" r="2.4"/><circle cx="191.5" cy="483.2" r="2.4"/><circle cx="194" cy="483.2" r="2.4"/><circle cx="196.5" cy="483.2" r="2.4"/></g><path d="M47 464.2 L49 462.8 L50.6 460.2 L52.4 464.2 L54.6 466.2 L57.7 464.2 L59.7 462.6 L61.7 464.2 L63.7 464.2 L65.7 465.5 L67.8 466.9 L69.8 463.5 L71.8 465.5 L73.8 466.2 L75.8 464.2 L77.8 464.2M81.1 468.2 L83.2 468.9 L85.2 469.5 L87.2 469.3 L89.2 470.2 L91.2 470.9 L93.2 471.5 L95.9 471.5 L97.9 471.2 L99.7 470.5 L101.4 469.8 L103.5 471.5 L105.2 472.6 L106.9 473 L108.8 472.3 L111 471.3 L113.3 470.7 L115.5 471.4 L118 471.9 L120.3 471.5 L122.5 471.6 L124.8 472.2 L127.3 472.9 L129.9 473.4 L132.2 472.9 L134.5 472 L136.8 471.3 L139 470.2 L141.3 471.3 L143.5 472.2 L145.7 472.6 L148 472.2 L150.4 471.9 L153 473 L155.7 473.9 L158.4 474.2 L161.1 474.6 L163.7 474.9 L166.4 475.2 L169.1 475.6 L171.8 475.9 L174.5 476.5 L177.1 477.2 L179.8 477.6 L182.5 477.9 L185.2 478.2 L187.8 478.6 L190.5 478.8 L193.2 479 L195.5 479 L197.5 479" fill="none" stroke="#9BBB59" stroke-width="1.5" stroke-linejoin="round"/><g fill="#9BBB59"><circle cx="47" cy="464.2" r="2.4"/><circle cx="49" cy="462.8" r="2.4"/><circle cx="50.6" cy="460.2" r="2.4"/><circle cx="52.4" cy="464.2" r="2.4"/><circle cx="54.6" cy="466.2" r="2.4"/><circle cx="57.7" cy="464.2" r="2.4"/><circle cx="59.7" cy="462.6" r="2.4"/><circle cx="61.7" cy="464.2" r="2.4"/><circle cx="63.7" cy="464.2" r="2.4"/><circle cx="65.7" cy="465.5" r="2.4"/><circle cx="67.8" cy="466.9" r="2.4"/><circle cx="69.8" cy="463.5" r="2.4"/><circle cx="71.8" cy="465.5" r="2.4"/><circle cx="73.8" cy="466.2" r="2.4"/><circle cx="75.8" cy="464.2" r="2.4"/><circle cx="77.8" cy="464.2" r="2.4"/><circle cx="81.1" cy="468.2" r="2.4"/><circle cx="83.2" cy="468.9" r="2.4"/><circle cx="85.2" cy="469.5" r="2.4"/><circle cx="87.2" cy="469.3" r="2.4"/><circle cx="89.2" cy="470.2" r="2.4"/><circle cx="91.2" cy="470.9" r="2.4"/><circle cx="93.2" cy="471.5" r="2.4"/><circle cx="95.9" cy="471.5" r="2.4"/><circle cx="97.9" cy="471.2" r="2.4"/><circle cx="99.7" cy="470.5" r="2.4"/><circle cx="101.4" cy="469.8" r="2.4"/><circle cx="103.5" cy="471.5" r="2.4"/><circle cx="105.2" cy="472.6" r="2.4"/><circle cx="106.9" cy="473" r="2.4"/><circle cx="108.8" cy="472.3" r="2.4"/><circle cx="111" cy="471.3" r="2.4"/><circle cx="113.3" cy="470.7" r="2.4"/><circle cx="115.5" cy="471.4" r="2.4"/><circle cx="118" cy="471.9" r="2.4"/><circle cx="120.3" cy="471.5" r="2.4"/><circle cx="122.5" cy="471.6" r="2.4"/><circle cx="124.8" cy="472.2" r="2.4"/><circle cx="127.3" cy="472.9" r="2.4"/><circle cx="129.9" cy="473.4" r="2.4"/><circle cx="132.2" cy="472.9" r="2.4"/><circle cx="134.5" cy="472" r="2.4"/><circle cx="136.8" cy="471.3" r="2.4"/><circle cx="139" cy="470.2" r="2.4"/><circle cx="141.3" cy="471.3" r="2.4"/><circle cx="143.5" cy="472.2" r="2.4"/><circle cx="145.7" cy="472.6" r="2.4"/><circle cx="148" cy="472.2" r="2.4"/><circle cx="150.4" cy="471.9" r="2.4"/><circle cx="153" cy="473" r="2.4"/><circle cx="155.7" cy="473.9" r="2.4"/><circle cx="158.4" cy="474.2" r="2.4"/><circle cx="161.1" cy="474.6" r="2.4"/><circle cx="163.7" cy="474.9" r="2.4"/><circle cx="166.4" cy="475.2" r="2.4"/><circle cx="169.1" cy="475.6" r="2.4"/><circle cx="171.8" cy="475.9" r="2.4"/><circle cx="174.5" cy="476.5" r="2.4"/><circle cx="177.1" cy="477.2" r="2.4"/><circle cx="179.8" cy="477.6" r="2.4"/><circle cx="182.5" cy="477.9" r="2.4"/><circle cx="185.2" cy="478.2" r="2.4"/><circle cx="187.8" cy="478.6" r="2.4"/><circle cx="190.5" cy="478.8" r="2.4"/><circle cx="193.2" cy="479" r="2.4"/><circle cx="195.5" cy="479" r="2.4"/><circle cx="197.5" cy="479" r="2.4"/></g><path d="M47.7 430 L49.7 427.4 L51.7 427.4 L53.3 425.4 L54.4 430 L58.4 432.7 L60.4 430.7 L62.4 429.4 L64.4 427.4 L65.7 430.7 L67.1 438.1 L68 444.1 L69.1 438.1 L70.5 429.7 L72.1 430.8 L74.2 431.3 L76.3 431.3 L77.9 430.8M81.1 438.2 L82.6 443.4 L84.7 442.4 L86.8 437.1 L88.9 436.6 L90.5 433.4 L92.1 439.2 L93.2 436.1 L96.3 441.8 L98.4 443.4 L100.5 441.8 L103.2 444.5 L104.7 446.6 L106.3 444.5 L109.1 441.5 L112.4 440.2 L116.4 440.8 L119.8 440.2 L122.4 439.5 L125.1 441.5 L127.1 439.5 L129.8 440.2 L132.5 435.9 L134.5 444.2 L137.2 440.2 L139.2 432.8 L141.2 440.2 L143.2 444.2 L145.9 445.5 L148.3 441.8 L151 441.1 L153.7 441.1 L155.7 443.1 L157.7 447.1 L159.7 446.5 L161.7 449.8 L163.7 453.2 L165.1 451.1 L167.1 450.5 L169.1 449.8 L171.1 453.2 L173.1 456.5 L175.1 459.2 L177.1 457.2 L179.1 459.2 L181.1 457.8 L183.2 459.2 L185.2 461.2 L187.2 461.9 L189.8 458.5 L191.9 456.5 L193.9 458.5 L196.5 458.5" fill="none" stroke="#C0504D" stroke-width="1.5" stroke-linejoin="round"/><g fill="#C0504D"><circle cx="47.7" cy="430" r="2.4"/><circle cx="49.7" cy="427.4" r="2.4"/><circle cx="51.7" cy="427.4" r="2.4"/><circle cx="53.3" cy="425.4" r="2.4"/><circle cx="54.4" cy="430" r="2.4"/><circle cx="58.4" cy="432.7" r="2.4"/><circle cx="60.4" cy="430.7" r="2.4"/><circle cx="62.4" cy="429.4" r="2.4"/><circle cx="64.4" cy="427.4" r="2.4"/><circle cx="65.7" cy="430.7" r="2.4"/><circle cx="67.1" cy="438.1" r="2.4"/><circle cx="68" cy="444.1" r="2.4"/><circle cx="69.1" cy="438.1" r="2.4"/><circle cx="70.5" cy="429.7" r="2.4"/><circle cx="72.1" cy="430.8" r="2.4"/><circle cx="74.2" cy="431.3" r="2.4"/><circle cx="76.3" cy="431.3" r="2.4"/><circle cx="77.9" cy="430.8" r="2.4"/><circle cx="81.1" cy="438.2" r="2.4"/><circle cx="82.6" cy="443.4" r="2.4"/><circle cx="84.7" cy="442.4" r="2.4"/><circle cx="86.8" cy="437.1" r="2.4"/><circle cx="88.9" cy="436.6" r="2.4"/><circle cx="90.5" cy="433.4" r="2.4"/><circle cx="92.1" cy="439.2" r="2.4"/><circle cx="93.2" cy="436.1" r="2.4"/><circle cx="96.3" cy="441.8" r="2.4"/><circle cx="98.4" cy="443.4" r="2.4"/><circle cx="100.5" cy="441.8" r="2.4"/><circle cx="103.2" cy="444.5" r="2.4"/><circle cx="104.7" cy="446.6" r="2.4"/><circle cx="106.3" cy="444.5" r="2.4"/><circle cx="109.1" cy="441.5" r="2.4"/><circle cx="112.4" cy="440.2" r="2.4"/><circle cx="116.4" cy="440.8" r="2.4"/><circle cx="119.8" cy="440.2" r="2.4"/><circle cx="122.4" cy="439.5" r="2.4"/><circle cx="125.1" cy="441.5" r="2.4"/><circle cx="127.1" cy="439.5" r="2.4"/><circle cx="129.8" cy="440.2" r="2.4"/><circle cx="132.5" cy="435.9" r="2.4"/><circle cx="134.5" cy="444.2" r="2.4"/><circle cx="137.2" cy="440.2" r="2.4"/><circle cx="139.2" cy="432.8" r="2.4"/><circle cx="141.2" cy="440.2" r="2.4"/><circle cx="143.2" cy="444.2" r="2.4"/><circle cx="145.9" cy="445.5" r="2.4"/><circle cx="148.3" cy="441.8" r="2.4"/><circle cx="151" cy="441.1" r="2.4"/><circle cx="153.7" cy="441.1" r="2.4"/><circle cx="155.7" cy="443.1" r="2.4"/><circle cx="157.7" cy="447.1" r="2.4"/><circle cx="159.7" cy="446.5" r="2.4"/><circle cx="161.7" cy="449.8" r="2.4"/><circle cx="163.7" cy="453.2" r="2.4"/><circle cx="165.1" cy="451.1" r="2.4"/><circle cx="167.1" cy="450.5" r="2.4"/><circle cx="169.1" cy="449.8" r="2.4"/><circle cx="171.1" cy="453.2" r="2.4"/><circle cx="173.1" cy="456.5" r="2.4"/><circle cx="175.1" cy="459.2" r="2.4"/><circle cx="177.1" cy="457.2" r="2.4"/><circle cx="179.1" cy="459.2" r="2.4"/><circle cx="181.1" cy="457.8" r="2.4"/><circle cx="183.2" cy="459.2" r="2.4"/><circle cx="185.2" cy="461.2" r="2.4"/><circle cx="187.2" cy="461.9" r="2.4"/><circle cx="189.8" cy="458.5" r="2.4"/><circle cx="191.9" cy="456.5" r="2.4"/><circle cx="193.9" cy="458.5" r="2.4"/><circle cx="196.5" cy="458.5" r="2.4"/></g><path d="M47.4 390.2 L49 388.8 L51 389.1 L52.4 391.1 L53.3 395.8 L54.6 401.1 L58.4 392.4 L60 390.4 L61.3 393.8 L62.7 397.1 L64.4 391.8 L65.7 389.8 L67.1 391.8 L68.4 394.5 L69.8 407.8 L70.5 407.6 L72.1 410.8 L74.2 410.8 L76.3 408.7 L77.9 412.9M81.1 430.3 L83.2 427.1 L85.3 429.7 L87.4 424.5 L88.9 423.4 L89.8 420.8 L91.1 426.6 L92.6 431.3 L94.2 436.6 L96.8 435 L97.9 428.7 L100 419.7 L101.6 409.7 L103.2 417.1 L104.2 427.6 L105.8 435.5 L107.9 438.2 L110.4 436.1 L112.1 436.1 L113.7 442.8 L115.7 449.5 L117.8 445.5 L121.1 440.2 L123.1 438.8 L127.1 440.2 L129.8 445.5 L133.8 453.5 L137.8 451.5 L141.2 452.9 L144.5 456.9 L146.3 461.2 L148.3 455.8 L150.4 455.2 L152.4 455.2 L153.7 457.8 L155.7 460.5 L157.7 461.2 L159.7 461.9 L161.7 462.5 L164.4 463.2 L167.1 462.5 L169.8 464.5 L171.8 466.5 L173.8 469.2 L175.8 471.9 L177.8 472.6 L179.8 471.9 L181.8 471.9 L183.8 472.6 L186.5 471.9 L188.5 472.6 L190.5 475.2 L192.5 475.9 L194.5 473.9 L196.5 470.6" fill="none" stroke="#E46C0A" stroke-width="1.5" stroke-linejoin="round"/><g fill="#E46C0A"><circle cx="47.4" cy="390.2" r="2.4"/><circle cx="49" cy="388.8" r="2.4"/><circle cx="51" cy="389.1" r="2.4"/><circle cx="52.4" cy="391.1" r="2.4"/><circle cx="53.3" cy="395.8" r="2.4"/><circle cx="54.6" cy="401.1" r="2.4"/><circle cx="58.4" cy="392.4" r="2.4"/><circle cx="60" cy="390.4" r="2.4"/><circle cx="61.3" cy="393.8" r="2.4"/><circle cx="62.7" cy="397.1" r="2.4"/><circle cx="64.4" cy="391.8" r="2.4"/><circle cx="65.7" cy="389.8" r="2.4"/><circle cx="67.1" cy="391.8" r="2.4"/><circle cx="68.4" cy="394.5" r="2.4"/><circle cx="69.8" cy="407.8" r="2.4"/><circle cx="70.5" cy="407.6" r="2.4"/><circle cx="72.1" cy="410.8" r="2.4"/><circle cx="74.2" cy="410.8" r="2.4"/><circle cx="76.3" cy="408.7" r="2.4"/><circle cx="77.9" cy="412.9" r="2.4"/><circle cx="81.1" cy="430.3" r="2.4"/><circle cx="83.2" cy="427.1" r="2.4"/><circle cx="85.3" cy="429.7" r="2.4"/><circle cx="87.4" cy="424.5" r="2.4"/><circle cx="88.9" cy="423.4" r="2.4"/><circle cx="89.8" cy="420.8" r="2.4"/><circle cx="91.1" cy="426.6" r="2.4"/><circle cx="92.6" cy="431.3" r="2.4"/><circle cx="94.2" cy="436.6" r="2.4"/><circle cx="96.8" cy="435" r="2.4"/><circle cx="97.9" cy="428.7" r="2.4"/><circle cx="100" cy="419.7" r="2.4"/><circle cx="101.6" cy="409.7" r="2.4"/><circle cx="103.2" cy="417.1" r="2.4"/><circle cx="104.2" cy="427.6" r="2.4"/><circle cx="105.8" cy="435.5" r="2.4"/><circle cx="107.9" cy="438.2" r="2.4"/><circle cx="110.4" cy="436.1" r="2.4"/><circle cx="112.1" cy="436.1" r="2.4"/><circle cx="113.7" cy="442.8" r="2.4"/><circle cx="115.7" cy="449.5" r="2.4"/><circle cx="117.8" cy="445.5" r="2.4"/><circle cx="121.1" cy="440.2" r="2.4"/><circle cx="123.1" cy="438.8" r="2.4"/><circle cx="127.1" cy="440.2" r="2.4"/><circle cx="129.8" cy="445.5" r="2.4"/><circle cx="133.8" cy="453.5" r="2.4"/><circle cx="137.8" cy="451.5" r="2.4"/><circle cx="141.2" cy="452.9" r="2.4"/><circle cx="144.5" cy="456.9" r="2.4"/><circle cx="146.3" cy="461.2" r="2.4"/><circle cx="148.3" cy="455.8" r="2.4"/><circle cx="150.4" cy="455.2" r="2.4"/><circle cx="152.4" cy="455.2" r="2.4"/><circle cx="153.7" cy="457.8" r="2.4"/><circle cx="155.7" cy="460.5" r="2.4"/><circle cx="157.7" cy="461.2" r="2.4"/><circle cx="159.7" cy="461.9" r="2.4"/><circle cx="161.7" cy="462.5" r="2.4"/><circle cx="164.4" cy="463.2" r="2.4"/><circle cx="167.1" cy="462.5" r="2.4"/><circle cx="169.8" cy="464.5" r="2.4"/><circle cx="171.8" cy="466.5" r="2.4"/><circle cx="173.8" cy="469.2" r="2.4"/><circle cx="175.8" cy="471.9" r="2.4"/><circle cx="177.8" cy="472.6" r="2.4"/><circle cx="179.8" cy="471.9" r="2.4"/><circle cx="181.8" cy="471.9" r="2.4"/><circle cx="183.8" cy="472.6" r="2.4"/><circle cx="186.5" cy="471.9" r="2.4"/><circle cx="188.5" cy="472.6" r="2.4"/><circle cx="190.5" cy="475.2" r="2.4"/><circle cx="192.5" cy="475.9" r="2.4"/><circle cx="194.5" cy="473.9" r="2.4"/><circle cx="196.5" cy="470.6" r="2.4"/></g><path d="M47.7 411.2 L49 409.2 L50.6 406.5 L52.4 408.5 L53.7 410.5 L55 412.5 L58.4 418.5 L60 410.5 L61.7 411.9 L63.1 409.2 L64.4 408.5 L65.7 410.5 L67.5 411.2 L69.1 413.9 L70.5 420.3 L72.1 421.8 L74.2 422.4 L75.8 420.8 L77.4 419.7M81.1 434 L83.2 437.6 L85.3 435.5 L86.8 432.9 L88.4 430.8 L90 431.8 L91.6 435.5 L92.6 438.2 L95.3 439.2 L96.8 439.7 L98.4 438.2 L100.5 431.8 L102.1 432.9 L103.2 436.6 L104.7 442.4 L106.3 442.4 L108.9 444.5 L111.7 440.8 L114.4 444.2 L116.4 446.2 L118 433.5 L119.1 442.8 L120.4 448.2 L122.4 444.8 L125.1 444.2 L127.8 446.2 L130.5 448.9 L133.8 452.2 L136.5 450.2 L139.2 445.5 L141.9 447.5 L143.7 450.5 L145.7 451.1 L147.7 450.5 L149.7 449.1 L151.7 449.8 L153.7 451.1 L155.7 453.8 L157.7 457.2 L159.7 459.8 L161.7 461.2 L163.7 460.5 L165.7 459.2 L167.8 458.5 L169.8 461.2 L171.8 464.5 L173.8 466.5 L175.8 466.5 L177.8 465.9 L179.8 466.5 L181.8 466.5 L183.8 468.5 L185.8 469.9 L187.8 470.6 L190.5 472.6 L192.5 471.9 L194.5 472.6 L196.5 471.9" fill="none" stroke="#8064A2" stroke-width="1.5" stroke-linejoin="round"/><g fill="#8064A2"><circle cx="47.7" cy="411.2" r="2.4"/><circle cx="49" cy="409.2" r="2.4"/><circle cx="50.6" cy="406.5" r="2.4"/><circle cx="52.4" cy="408.5" r="2.4"/><circle cx="53.7" cy="410.5" r="2.4"/><circle cx="55" cy="412.5" r="2.4"/><circle cx="58.4" cy="418.5" r="2.4"/><circle cx="60" cy="410.5" r="2.4"/><circle cx="61.7" cy="411.9" r="2.4"/><circle cx="63.1" cy="409.2" r="2.4"/><circle cx="64.4" cy="408.5" r="2.4"/><circle cx="65.7" cy="410.5" r="2.4"/><circle cx="67.5" cy="411.2" r="2.4"/><circle cx="69.1" cy="413.9" r="2.4"/><circle cx="70.5" cy="420.3" r="2.4"/><circle cx="72.1" cy="421.8" r="2.4"/><circle cx="74.2" cy="422.4" r="2.4"/><circle cx="75.8" cy="420.8" r="2.4"/><circle cx="77.4" cy="419.7" r="2.4"/><circle cx="81.1" cy="434" r="2.4"/><circle cx="83.2" cy="437.6" r="2.4"/><circle cx="85.3" cy="435.5" r="2.4"/><circle cx="86.8" cy="432.9" r="2.4"/><circle cx="88.4" cy="430.8" r="2.4"/><circle cx="90" cy="431.8" r="2.4"/><circle cx="91.6" cy="435.5" r="2.4"/><circle cx="92.6" cy="438.2" r="2.4"/><circle cx="95.3" cy="439.2" r="2.4"/><circle cx="96.8" cy="439.7" r="2.4"/><circle cx="98.4" cy="438.2" r="2.4"/><circle cx="100.5" cy="431.8" r="2.4"/><circle cx="102.1" cy="432.9" r="2.4"/><circle cx="103.2" cy="436.6" r="2.4"/><circle cx="104.7" cy="442.4" r="2.4"/><circle cx="106.3" cy="442.4" r="2.4"/><circle cx="108.9" cy="444.5" r="2.4"/><circle cx="111.7" cy="440.8" r="2.4"/><circle cx="114.4" cy="444.2" r="2.4"/><circle cx="116.4" cy="446.2" r="2.4"/><circle cx="118" cy="433.5" r="2.4"/><circle cx="119.1" cy="442.8" r="2.4"/><circle cx="120.4" cy="448.2" r="2.4"/><circle cx="122.4" cy="444.8" r="2.4"/><circle cx="125.1" cy="444.2" r="2.4"/><circle cx="127.8" cy="446.2" r="2.4"/><circle cx="130.5" cy="448.9" r="2.4"/><circle cx="133.8" cy="452.2" r="2.4"/><circle cx="136.5" cy="450.2" r="2.4"/><circle cx="139.2" cy="445.5" r="2.4"/><circle cx="141.9" cy="447.5" r="2.4"/><circle cx="143.7" cy="450.5" r="2.4"/><circle cx="145.7" cy="451.1" r="2.4"/><circle cx="147.7" cy="450.5" r="2.4"/><circle cx="149.7" cy="449.1" r="2.4"/><circle cx="151.7" cy="449.8" r="2.4"/><circle cx="153.7" cy="451.1" r="2.4"/><circle cx="155.7" cy="453.8" r="2.4"/><circle cx="157.7" cy="457.2" r="2.4"/><circle cx="159.7" cy="459.8" r="2.4"/><circle cx="161.7" cy="461.2" r="2.4"/><circle cx="163.7" cy="460.5" r="2.4"/><circle cx="165.7" cy="459.2" r="2.4"/><circle cx="167.8" cy="458.5" r="2.4"/><circle cx="169.8" cy="461.2" r="2.4"/><circle cx="171.8" cy="464.5" r="2.4"/><circle cx="173.8" cy="466.5" r="2.4"/><circle cx="175.8" cy="466.5" r="2.4"/><circle cx="177.8" cy="465.9" r="2.4"/><circle cx="179.8" cy="466.5" r="2.4"/><circle cx="181.8" cy="466.5" r="2.4"/><circle cx="183.8" cy="468.5" r="2.4"/><circle cx="185.8" cy="469.9" r="2.4"/><circle cx="187.8" cy="470.6" r="2.4"/><circle cx="190.5" cy="472.6" r="2.4"/><circle cx="192.5" cy="471.9" r="2.4"/><circle cx="194.5" cy="472.6" r="2.4"/><circle cx="196.5" cy="471.9" r="2.4"/></g><path d="M46.1 284.4 H198.1 V484.7 H46.1 Z" fill="none" stroke="#333333" stroke-width="1.25"/><path d="M42.3 484.7 H46.1 M42.3 444.64 H46.1 M42.3 404.58 H46.1 M42.3 364.52 H46.1 M42.3 324.46 H46.1 M42.3 284.4 H46.1 " stroke="#333333" stroke-width="1.25"/><text x="38.6" y="488.5" font-size="12" text-anchor="end">0</text><text x="38.6" y="448.44" font-size="12" text-anchor="end">50</text><text x="38.6" y="408.38" font-size="12" text-anchor="end">100</text><text x="38.6" y="368.32" font-size="12" text-anchor="end">150</text><text x="38.6" y="328.26" font-size="12" text-anchor="end">200</text><text x="38.6" y="288.2" font-size="12" text-anchor="end">250</text><path d="M198.1 484.7 H201.9 M198.1 459.66 H201.9 M198.1 434.62 H201.9 M198.1 409.59 H201.9 M198.1 384.55 H201.9 M198.1 359.51 H201.9 M198.1 334.48 H201.9 M198.1 309.44 H201.9 M198.1 284.4 H201.9 " stroke="#333333" stroke-width="1.25"/><text x="205.6" y="488.5" font-size="12" text-anchor="start">0</text><text x="205.6" y="463.46" font-size="12" text-anchor="start">100</text><text x="205.6" y="438.43" font-size="12" text-anchor="start">200</text><text x="205.6" y="413.39" font-size="12" text-anchor="start">300</text><text x="205.6" y="388.35" font-size="12" text-anchor="start">400</text><text x="205.6" y="363.31" font-size="12" text-anchor="start">500</text><text x="205.6" y="338.28" font-size="12" text-anchor="start">600</text><text x="205.6" y="313.24" font-size="12" text-anchor="start">700</text><text x="205.6" y="288.2" font-size="12" text-anchor="start">800</text><path d="M46.1 484.7 V488.9 M74.02 484.7 V488.9 M101.94 484.7 V488.9 M129.86 484.7 V488.9 M157.78 484.7 V488.9 M185.7 484.7 V488.9 " stroke="#333333" stroke-width="1.25"/><text x="46.1" y="501.8" font-size="12" text-anchor="middle">0</text><text x="74.02" y="501.8" font-size="12" text-anchor="middle">250</text><text x="101.94" y="501.8" font-size="12" text-anchor="middle">500</text><text x="129.86" y="501.8" font-size="12" text-anchor="middle">750</text><text x="157.28" y="501.8" font-size="12" text-anchor="middle">1000</text><text x="186.9" y="501.8" font-size="12" text-anchor="middle">1250</text><text x="46.2" y="279.6" font-size="16" text-anchor="start" font-weight="bold">C</text><text x="194" y="279.7" font-size="16" text-anchor="end" font-weight="bold">D</text><text x="190" y="305.9" font-size="16" text-anchor="end" font-weight="bold">PH4</text><text x="190" y="326.2" font-size="16" text-anchor="end" font-weight="bold">HREE</text><text transform="translate(5.6 383.4) rotate(-90)" x="0" y="0" font-size="12" text-anchor="middle" dominant-baseline="central" font-weight="bold">Dy, Ho, Er, Tm, Yb, Lu (ppm)</text><text transform="translate(240.1 384) rotate(-90)" x="0" y="0" font-size="12" text-anchor="middle" dominant-baseline="central" font-weight="bold">Y (ppm)</text><text x="126.4" y="518.7" font-size="12" text-anchor="middle" font-weight="bold">Distance (<tspan font-style="italic">µ</tspan>m)</text><path d="M255.8 319.5 H280.1" stroke="#D99694" stroke-width="1.3"/><circle cx="267.95" cy="319.5" r="2.3" fill="#D99694"/><text x="282.2" y="323.8" font-size="12" text-anchor="start">Y</text><path d="M255.8 340.1 H280.1" stroke="#C0504D" stroke-width="1.3"/><circle cx="267.95" cy="340.1" r="2.3" fill="#C0504D"/><text x="282.2" y="344.4" font-size="12" text-anchor="start">Dy</text><path d="M255.8 361.5 H280.1" stroke="#9BBB59" stroke-width="1.3"/><circle cx="267.95" cy="361.5" r="2.3" fill="#9BBB59"/><text x="282.2" y="365.8" font-size="12" text-anchor="start">Ho</text><path d="M255.8 383.2 H280.1" stroke="#8064A2" stroke-width="1.3"/><circle cx="267.95" cy="383.2" r="2.3" fill="#8064A2"/><text x="282.2" y="387.5" font-size="12" text-anchor="start">Er</text><path d="M255.8 404.6 H280.1" stroke="#4BACC6" stroke-width="1.3"/><circle cx="267.95" cy="404.6" r="2.3" fill="#4BACC6"/><text x="282.2" y="408.9" font-size="12" text-anchor="start">Tm</text><path d="M255.8 426.4 H280.1" stroke="#E46C0A" stroke-width="1.3"/><circle cx="267.95" cy="426.4" r="2.3" fill="#E46C0A"/><text x="282.2" y="430.7" font-size="12" text-anchor="start">Yb</text><path d="M255.8 448.2 H280.1" stroke="#95B3D7" stroke-width="1.3"/><circle cx="267.95" cy="448.2" r="2.3" fill="#95B3D7"/><text x="282.2" y="452.5" font-size="12" text-anchor="start">Lu</text><path d="M373 414.7 L378 414.7 L383.4 409.9 L388.4 408.2 L393.6 411.9 L399 408.6 L404 406 L409 406 L414.4 402.1 L419.2 403.8 L424.6 409.9 L429.6 407.1 L434.8 402.3 L440.2 401 L445.2 399.5 L450.6 401 L455.6 396.3 L460.8 401 L465.8 400.6 L470.7 401.7 L475.9 401 L481.4 389.3 L486.8 390.4" fill="none" stroke="#D99694" stroke-width="1.2" stroke-linejoin="round"/><g fill="#D99694"><circle cx="373" cy="414.7" r="2.5"/><circle cx="378" cy="414.7" r="2.5"/><circle cx="383.4" cy="409.9" r="2.5"/><circle cx="388.4" cy="408.2" r="2.5"/><circle cx="393.6" cy="411.9" r="2.5"/><circle cx="399" cy="408.6" r="2.5"/><circle cx="404" cy="406" r="2.5"/><circle cx="409" cy="406" r="2.5"/><circle cx="414.4" cy="402.1" r="2.5"/><circle cx="419.2" cy="403.8" r="2.5"/><circle cx="424.6" cy="409.9" r="2.5"/><circle cx="429.6" cy="407.1" r="2.5"/><circle cx="434.8" cy="402.3" r="2.5"/><circle cx="440.2" cy="401" r="2.5"/><circle cx="445.2" cy="399.5" r="2.5"/><circle cx="450.6" cy="401" r="2.5"/><circle cx="455.6" cy="396.3" r="2.5"/><circle cx="460.8" cy="401" r="2.5"/><circle cx="465.8" cy="400.6" r="2.5"/><circle cx="470.7" cy="401.7" r="2.5"/><circle cx="475.9" cy="401" r="2.5"/><circle cx="481.4" cy="389.3" r="2.5"/><circle cx="486.8" cy="390.4" r="2.5"/></g><path d="M373 478.2 L378 477.5 L383.4 476.9 L388.4 476.4 L393.6 478.6 L399 477.9 L404 476.9 L409 476.4 L414.4 476 L419.2 474.9 L424.6 478.2 L429.6 478.2 L434.8 477.5 L440.2 477.9 L445.2 476.4 L450.6 474.7 L455.6 474.7 L460.8 476.4 L465.8 476.9 L470.7 475.8 L475.9 475.8 L481.4 474.7 L486.8 474.7" fill="none" stroke="#F9B88A" stroke-width="1.2" stroke-linejoin="round"/><g fill="#F9B88A"><circle cx="373" cy="478.2" r="2.5"/><circle cx="378" cy="477.5" r="2.5"/><circle cx="383.4" cy="476.9" r="2.5"/><circle cx="388.4" cy="476.4" r="2.5"/><circle cx="393.6" cy="478.6" r="2.5"/><circle cx="399" cy="477.9" r="2.5"/><circle cx="404" cy="476.9" r="2.5"/><circle cx="409" cy="476.4" r="2.5"/><circle cx="414.4" cy="476" r="2.5"/><circle cx="419.2" cy="474.9" r="2.5"/><circle cx="424.6" cy="478.2" r="2.5"/><circle cx="429.6" cy="478.2" r="2.5"/><circle cx="434.8" cy="477.5" r="2.5"/><circle cx="440.2" cy="477.9" r="2.5"/><circle cx="445.2" cy="476.4" r="2.5"/><circle cx="450.6" cy="474.7" r="2.5"/><circle cx="455.6" cy="474.7" r="2.5"/><circle cx="460.8" cy="476.4" r="2.5"/><circle cx="465.8" cy="476.9" r="2.5"/><circle cx="470.7" cy="475.8" r="2.5"/><circle cx="475.9" cy="475.8" r="2.5"/><circle cx="481.4" cy="474.7" r="2.5"/><circle cx="486.8" cy="474.7" r="2.5"/></g><path d="M373 384.1 L378 385.2 L383.4 375.8 L388.4 364.6 L393.6 381.7 L399 375.4 L404 371.5 L409 374.8 L414.4 372.2 L419.2 364.6 L424.6 397.5 L429.6 381.3 L434.8 382.3 L440.2 382.3 L445.2 367.6 L450.6 371.1 L455.6 367.6 L460.8 376.9 L465.8 374.1 L470.7 375.4 L475.9 375.4 L481.4 359.2 L486.8 360.2" fill="none" stroke="#C0504D" stroke-width="1.2" stroke-linejoin="round"/><g fill="#C0504D"><circle cx="373" cy="384.1" r="2.5"/><circle cx="378" cy="385.2" r="2.5"/><circle cx="383.4" cy="375.8" r="2.5"/><circle cx="388.4" cy="364.6" r="2.5"/><circle cx="393.6" cy="381.7" r="2.5"/><circle cx="399" cy="375.4" r="2.5"/><circle cx="404" cy="371.5" r="2.5"/><circle cx="409" cy="374.8" r="2.5"/><circle cx="414.4" cy="372.2" r="2.5"/><circle cx="419.2" cy="364.6" r="2.5"/><circle cx="424.6" cy="397.5" r="2.5"/><circle cx="429.6" cy="381.3" r="2.5"/><circle cx="434.8" cy="382.3" r="2.5"/><circle cx="440.2" cy="382.3" r="2.5"/><circle cx="445.2" cy="367.6" r="2.5"/><circle cx="450.6" cy="371.1" r="2.5"/><circle cx="455.6" cy="367.6" r="2.5"/><circle cx="460.8" cy="376.9" r="2.5"/><circle cx="465.8" cy="374.1" r="2.5"/><circle cx="470.7" cy="375.4" r="2.5"/><circle cx="475.9" cy="375.4" r="2.5"/><circle cx="481.4" cy="359.2" r="2.5"/><circle cx="486.8" cy="360.2" r="2.5"/></g><path d="M373 456.3 L378 455.8 L383.4 453.2 L388.4 455.4 L393.6 453 L399 451.5 L404 451.5 L409 453.7 L414.4 453.7 L419.2 451.9 L424.6 459.7 L429.6 454.3 L434.8 450.4 L440.2 450.9 L445.2 450 L450.6 450.4 L455.6 452.2 L460.8 453 L465.8 450 L470.7 448.3 L475.9 450 L481.4 441.3 L486.8 443.9" fill="none" stroke="#9BBB59" stroke-width="1.2" stroke-linejoin="round"/><g fill="#9BBB59"><circle cx="373" cy="456.3" r="2.5"/><circle cx="378" cy="455.8" r="2.5"/><circle cx="383.4" cy="453.2" r="2.5"/><circle cx="388.4" cy="455.4" r="2.5"/><circle cx="393.6" cy="453" r="2.5"/><circle cx="399" cy="451.5" r="2.5"/><circle cx="404" cy="451.5" r="2.5"/><circle cx="409" cy="453.7" r="2.5"/><circle cx="414.4" cy="453.7" r="2.5"/><circle cx="419.2" cy="451.9" r="2.5"/><circle cx="424.6" cy="459.7" r="2.5"/><circle cx="429.6" cy="454.3" r="2.5"/><circle cx="434.8" cy="450.4" r="2.5"/><circle cx="440.2" cy="450.9" r="2.5"/><circle cx="445.2" cy="450" r="2.5"/><circle cx="450.6" cy="450.4" r="2.5"/><circle cx="455.6" cy="452.2" r="2.5"/><circle cx="460.8" cy="453" r="2.5"/><circle cx="465.8" cy="450" r="2.5"/><circle cx="470.7" cy="448.3" r="2.5"/><circle cx="475.9" cy="450" r="2.5"/><circle cx="481.4" cy="441.3" r="2.5"/><circle cx="486.8" cy="443.9" r="2.5"/></g><path d="M373 388.2 L378 382.3 L383.4 372.2 L388.4 379.7 L393.6 387.3 L399 388.8 L404 387.3 L409 387.1 L414.4 376.3 L419.2 373.7 L424.6 390.6 L429.6 376.3 L434.8 373.7 L440.2 375.8 L445.2 364.6 L450.6 362.8 L455.6 353.1 L460.8 358.1 L465.8 359.6 L470.7 367.2 L475.9 357.9 L481.4 314.1 L486.8 329.9" fill="none" stroke="#8064A2" stroke-width="1.2" stroke-linejoin="round"/><g fill="#8064A2"><circle cx="373" cy="388.2" r="2.5"/><circle cx="378" cy="382.3" r="2.5"/><circle cx="383.4" cy="372.2" r="2.5"/><circle cx="388.4" cy="379.7" r="2.5"/><circle cx="393.6" cy="387.3" r="2.5"/><circle cx="399" cy="388.8" r="2.5"/><circle cx="404" cy="387.3" r="2.5"/><circle cx="409" cy="387.1" r="2.5"/><circle cx="414.4" cy="376.3" r="2.5"/><circle cx="419.2" cy="373.7" r="2.5"/><circle cx="424.6" cy="390.6" r="2.5"/><circle cx="429.6" cy="376.3" r="2.5"/><circle cx="434.8" cy="373.7" r="2.5"/><circle cx="440.2" cy="375.8" r="2.5"/><circle cx="445.2" cy="364.6" r="2.5"/><circle cx="450.6" cy="362.8" r="2.5"/><circle cx="455.6" cy="353.1" r="2.5"/><circle cx="460.8" cy="358.1" r="2.5"/><circle cx="465.8" cy="359.6" r="2.5"/><circle cx="470.7" cy="367.2" r="2.5"/><circle cx="475.9" cy="357.9" r="2.5"/><circle cx="481.4" cy="314.1" r="2.5"/><circle cx="486.8" cy="329.9" r="2.5"/></g><path d="M373 468.4 L378 469.9 L383.4 468.4 L388.4 469.9 L393.6 468.2 L399 467.8 L404 467.8 L409 467.3 L414.4 466 L419.2 464.5 L424.6 470.6 L429.6 469.3 L434.8 467.1 L440.2 467.3 L445.2 467.3 L450.6 466.2 L455.6 463.4 L460.8 463 L465.8 463 L470.7 464.5 L475.9 464.5 L481.4 461.9 L486.8 461.9" fill="none" stroke="#4BACC6" stroke-width="1.2" stroke-linejoin="round"/><g fill="#4BACC6"><circle cx="373" cy="468.4" r="2.5"/><circle cx="378" cy="469.9" r="2.5"/><circle cx="383.4" cy="468.4" r="2.5"/><circle cx="388.4" cy="469.9" r="2.5"/><circle cx="393.6" cy="468.2" r="2.5"/><circle cx="399" cy="467.8" r="2.5"/><circle cx="404" cy="467.8" r="2.5"/><circle cx="409" cy="467.3" r="2.5"/><circle cx="414.4" cy="466" r="2.5"/><circle cx="419.2" cy="464.5" r="2.5"/><circle cx="424.6" cy="470.6" r="2.5"/><circle cx="429.6" cy="469.3" r="2.5"/><circle cx="434.8" cy="467.1" r="2.5"/><circle cx="440.2" cy="467.3" r="2.5"/><circle cx="445.2" cy="467.3" r="2.5"/><circle cx="450.6" cy="466.2" r="2.5"/><circle cx="455.6" cy="463.4" r="2.5"/><circle cx="460.8" cy="463" r="2.5"/><circle cx="465.8" cy="463" r="2.5"/><circle cx="470.7" cy="464.5" r="2.5"/><circle cx="475.9" cy="464.5" r="2.5"/><circle cx="481.4" cy="461.9" r="2.5"/><circle cx="486.8" cy="461.9" r="2.5"/></g><path d="M373 368.7 L378 371.5 L383.4 368.3 L388.4 362.2 L393.6 363.9 L399 371.1 L404 382.3 L409 383.9 L414.4 366.1 L419.2 361.8 L424.6 386.2 L429.6 367.2 L434.8 355.7 L440.2 353.5 L445.2 352.7 L450.6 347 L455.6 339.7 L460.8 334 L465.8 324.3 L470.7 340.1 L475.9 343.8 L481.4 298.8 L486.8 304.3" fill="none" stroke="#E46C0A" stroke-width="1.2" stroke-linejoin="round"/><g fill="#E46C0A"><circle cx="373" cy="368.7" r="2.5"/><circle cx="378" cy="371.5" r="2.5"/><circle cx="383.4" cy="368.3" r="2.5"/><circle cx="388.4" cy="362.2" r="2.5"/><circle cx="393.6" cy="363.9" r="2.5"/><circle cx="399" cy="371.1" r="2.5"/><circle cx="404" cy="382.3" r="2.5"/><circle cx="409" cy="383.9" r="2.5"/><circle cx="414.4" cy="366.1" r="2.5"/><circle cx="419.2" cy="361.8" r="2.5"/><circle cx="424.6" cy="386.2" r="2.5"/><circle cx="429.6" cy="367.2" r="2.5"/><circle cx="434.8" cy="355.7" r="2.5"/><circle cx="440.2" cy="353.5" r="2.5"/><circle cx="445.2" cy="352.7" r="2.5"/><circle cx="450.6" cy="347" r="2.5"/><circle cx="455.6" cy="339.7" r="2.5"/><circle cx="460.8" cy="334" r="2.5"/><circle cx="465.8" cy="324.3" r="2.5"/><circle cx="470.7" cy="340.1" r="2.5"/><circle cx="475.9" cy="343.8" r="2.5"/><circle cx="481.4" cy="298.8" r="2.5"/><circle cx="486.8" cy="304.3" r="2.5"/></g><path d="M373 469.5 L378 468.8 L383.4 469.5 L388.4 471.7 L393.6 471 L399 471 L404 471 L409 471.4 L414.4 469.3 L419.2 468.8 L424.6 472.1 L429.6 468.8 L434.8 467.1 L440.2 467.8 L445.2 467.3 L450.6 461.9 L455.6 461.9 L460.8 461.9 L465.8 460.8 L470.7 461.9 L475.9 462.3 L481.4 458.4 L486.8 459.7" fill="none" stroke="#95B3D7" stroke-width="1.2" stroke-linejoin="round"/><g fill="#95B3D7"><circle cx="373" cy="469.5" r="2.5"/><circle cx="378" cy="468.8" r="2.5"/><circle cx="383.4" cy="469.5" r="2.5"/><circle cx="388.4" cy="471.7" r="2.5"/><circle cx="393.6" cy="471" r="2.5"/><circle cx="399" cy="471" r="2.5"/><circle cx="404" cy="471" r="2.5"/><circle cx="409" cy="471.4" r="2.5"/><circle cx="414.4" cy="469.3" r="2.5"/><circle cx="419.2" cy="468.8" r="2.5"/><circle cx="424.6" cy="472.1" r="2.5"/><circle cx="429.6" cy="468.8" r="2.5"/><circle cx="434.8" cy="467.1" r="2.5"/><circle cx="440.2" cy="467.8" r="2.5"/><circle cx="445.2" cy="467.3" r="2.5"/><circle cx="450.6" cy="461.9" r="2.5"/><circle cx="455.6" cy="461.9" r="2.5"/><circle cx="460.8" cy="461.9" r="2.5"/><circle cx="465.8" cy="460.8" r="2.5"/><circle cx="470.7" cy="461.9" r="2.5"/><circle cx="475.9" cy="462.3" r="2.5"/><circle cx="481.4" cy="458.4" r="2.5"/><circle cx="486.8" cy="459.7" r="2.5"/></g><path d="M368.6 282.5 H491 V485 H368.6 Z" fill="none" stroke="#333333" stroke-width="1.25"/><path d="M364.8 485 H368.6 M364.8 444.5 H368.6 M364.8 404 H368.6 M364.8 363.5 H368.6 M364.8 323 H368.6 M364.8 282.5 H368.6 " stroke="#333333" stroke-width="1.25"/><text x="361.1" y="488.8" font-size="12" text-anchor="end">0</text><text x="361.1" y="448.3" font-size="12" text-anchor="end">20</text><text x="361.1" y="407.8" font-size="12" text-anchor="end">40</text><text x="361.1" y="367.3" font-size="12" text-anchor="end">60</text><text x="361.1" y="326.8" font-size="12" text-anchor="end">80</text><text x="361.1" y="286.3" font-size="12" text-anchor="end">100</text><path d="M491 485 H494.8 M491 451.25 H494.8 M491 417.5 H494.8 M491 383.75 H494.8 M491 350 H494.8 M491 316.25 H494.8 M491 282.5 H494.8 " stroke="#333333" stroke-width="1.25"/><text x="498.5" y="488.8" font-size="12" text-anchor="start">0</text><text x="498.5" y="455.05" font-size="12" text-anchor="start">200</text><text x="498.5" y="421.3" font-size="12" text-anchor="start">400</text><text x="498.5" y="387.55" font-size="12" text-anchor="start">600</text><text x="498.5" y="353.8" font-size="12" text-anchor="start">800</text><text x="498.5" y="320.05" font-size="12" text-anchor="start">1000</text><text x="498.5" y="286.3" font-size="12" text-anchor="start">1200</text><path d="M368.6 485 V489.2 M411.7 485 V489.2 M454.8 485 V489.2 " stroke="#333333" stroke-width="1.25"/><text x="369.3" y="502.6" font-size="12" text-anchor="middle">0</text><text x="412.4" y="502.6" font-size="12" text-anchor="middle">100</text><text x="455.5" y="502.6" font-size="12" text-anchor="middle">200</text><text x="372.9" y="278.8" font-size="16" text-anchor="start" font-weight="bold">E</text><text x="486.5" y="278.4" font-size="16" text-anchor="end" font-weight="bold">F</text><text x="378.2" y="305.9" font-size="16" text-anchor="start" font-weight="bold">PH4</text><text x="378.2" y="326.1" font-size="16" text-anchor="start" font-weight="bold">HREE</text><text transform="translate(333.8 384.5) rotate(-90)" x="0" y="0" font-size="12" text-anchor="middle" dominant-baseline="central" font-weight="bold">Tb, Dy, Ho, Er, Tm, Yb, Lu (ppm)</text><text transform="translate(534.6 383.4) rotate(-90)" x="0" y="0" font-size="12" text-anchor="middle" dominant-baseline="central" font-weight="bold">Y (ppm)</text><text x="434.7" y="518.3" font-size="12" text-anchor="middle" font-weight="bold">Distance (<tspan font-style="italic">µ</tspan>m)</text><path d="M552 311.9 H576" stroke="#D99694" stroke-width="1.3"/><circle cx="564" cy="311.9" r="2.3" fill="#D99694"/><text x="578.5" y="316.2" font-size="12" text-anchor="start">Y</text><path d="M552 332.3 H576" stroke="#F9B88A" stroke-width="1.3"/><circle cx="564" cy="332.3" r="2.3" fill="#F9B88A"/><text x="578.5" y="336.6" font-size="12" text-anchor="start">Tb</text><path d="M552 352.8 H576" stroke="#C0504D" stroke-width="1.3"/><circle cx="564" cy="352.8" r="2.3" fill="#C0504D"/><text x="578.5" y="357.1" font-size="12" text-anchor="start">Dy</text><path d="M552 374.5 H576" stroke="#9BBB59" stroke-width="1.3"/><circle cx="564" cy="374.5" r="2.3" fill="#9BBB59"/><text x="578.5" y="378.8" font-size="12" text-anchor="start">Ho</text><path d="M552 395 H576" stroke="#8064A2" stroke-width="1.3"/><circle cx="564" cy="395" r="2.3" fill="#8064A2"/><text x="578.5" y="399.3" font-size="12" text-anchor="start">Er</text><path d="M552 415.3 H576" stroke="#4BACC6" stroke-width="1.3"/><circle cx="564" cy="415.3" r="2.3" fill="#4BACC6"/><text x="578.5" y="419.6" font-size="12" text-anchor="start">Tm</text><path d="M552 435.6 H576" stroke="#E46C0A" stroke-width="1.3"/><circle cx="564" cy="435.6" r="2.3" fill="#E46C0A"/><text x="578.5" y="439.9" font-size="12" text-anchor="start">Yb</text><path d="M552 455.7 H576" stroke="#95B3D7" stroke-width="1.3"/><circle cx="564" cy="455.7" r="2.3" fill="#95B3D7"/><text x="578.5" y="460" font-size="12" text-anchor="start">Lu</text></svg>
</body></html>
